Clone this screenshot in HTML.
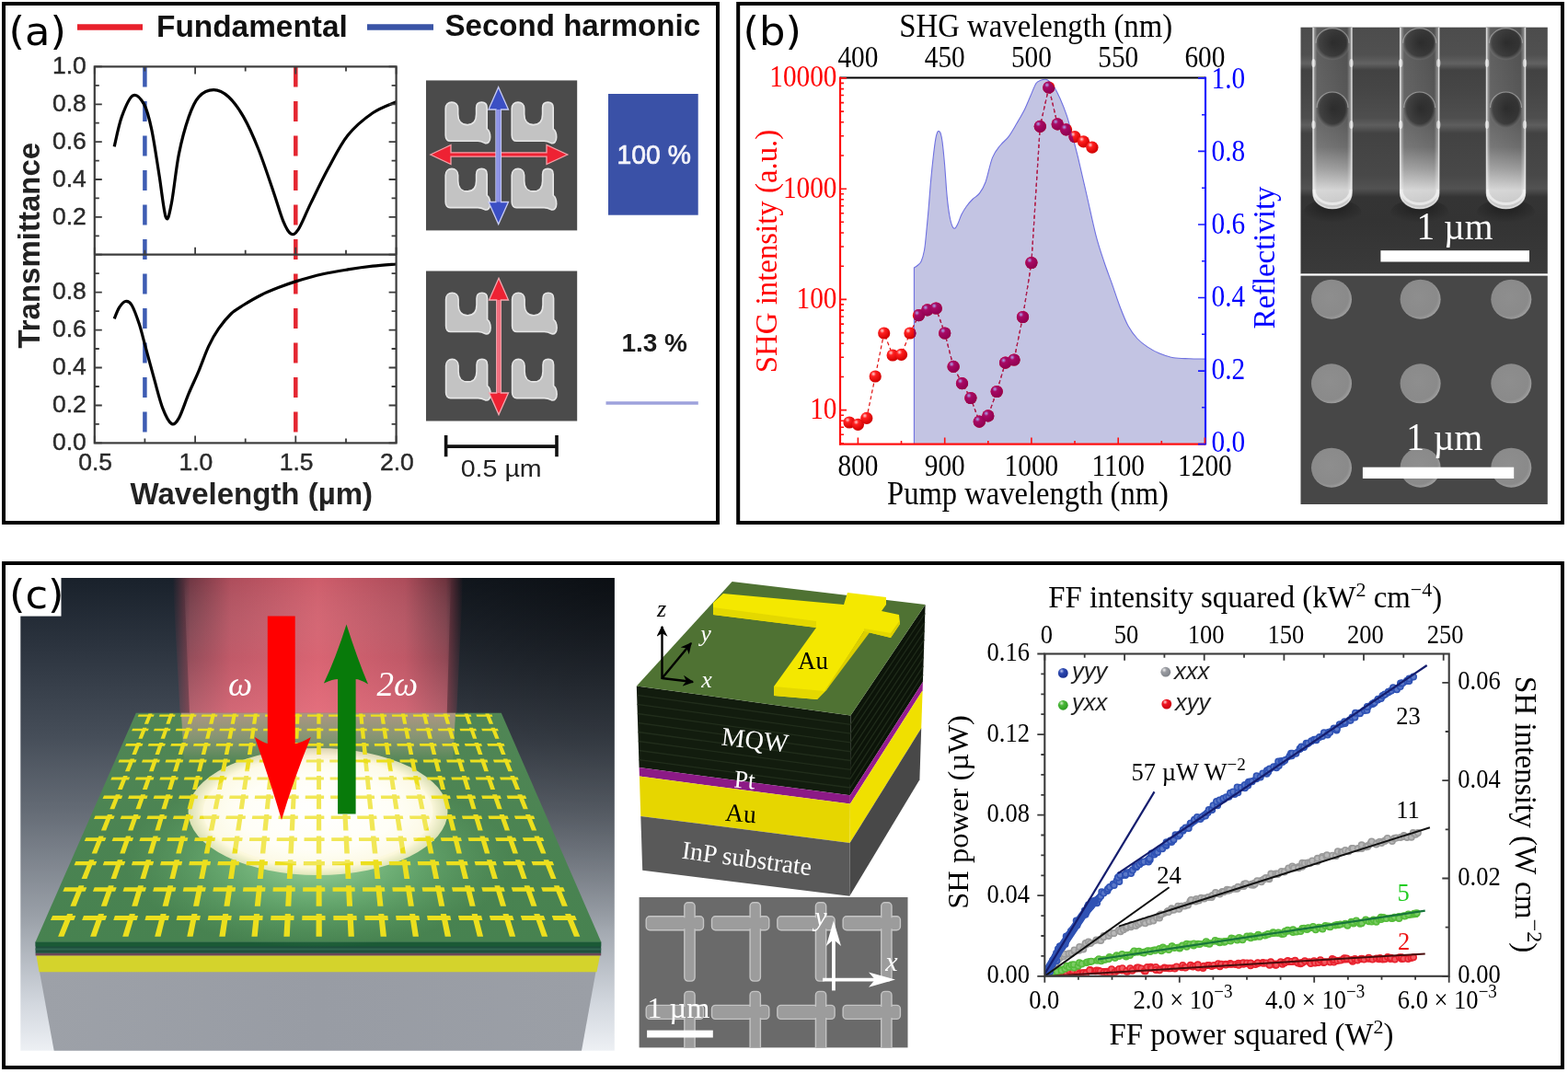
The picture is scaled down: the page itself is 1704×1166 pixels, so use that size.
<!DOCTYPE html>
<html><head><meta charset="utf-8"><title>Figure</title><style>html,body{margin:0;padding:0;background:#fff;width:1704px;height:1166px;overflow:hidden}svg{display:block}</style></head><body>
<svg width="1704" height="1166" viewBox="0 0 1704 1166">
<rect width="1704" height="1166" fill="#fff"/>
<rect x="4" y="4" width="776" height="564" fill="#fff" stroke="#000" stroke-width="4"/>
<text transform="translate(9.6,48.6) scale(1.03,1)" font-family="'DejaVu Sans', sans-serif" font-size="43.5" fill="#000">(a)</text>
<line x1="84" y1="29.6" x2="155" y2="29.6" stroke="#e8212c" stroke-width="6.5"/>
<text x="170" y="39.7" font-family="'Liberation Sans', Arial, sans-serif" font-weight="bold" font-size="33.4" fill="#111">Fundamental</text>
<line x1="399" y1="29.6" x2="471" y2="29.6" stroke="#3a54a6" stroke-width="6.5"/>
<text x="483.5" y="39.4" font-family="'Liberation Sans', Arial, sans-serif" font-weight="bold" font-size="33.1" fill="#111">Second harmonic</text>
<line x1="157.4" y1="72.4" x2="157.4" y2="481.4" stroke="#3d5cb3" stroke-width="4.5" stroke-dasharray="22,15.5"/>
<line x1="321.3" y1="72.4" x2="321.3" y2="481.4" stroke="#e42631" stroke-width="4.5" stroke-dasharray="22,15.5"/>
<path d="M124.20,159.30 C125.55,153.90 128.93,136.13 132.30,126.90 C135.67,117.67 140.35,106.15 144.40,103.90 C148.45,101.65 153.22,107.32 156.60,113.40 C159.98,119.48 162.00,127.80 164.70,140.40 C167.40,153.00 170.20,173.03 172.80,189.00 C175.40,204.97 178.05,230.80 180.30,236.20 C182.55,241.60 183.95,232.87 186.30,221.40 C188.65,209.93 191.25,183.15 194.40,167.40 C197.55,151.65 201.60,137.25 205.20,126.90 C208.80,116.55 211.50,110.17 216.00,105.30 C220.50,100.43 226.80,97.70 232.20,97.70 C237.60,97.70 243.00,100.43 248.40,105.30 C253.80,110.17 259.20,117.45 264.60,126.90 C270.00,136.35 275.40,148.50 280.80,162.00 C286.20,175.50 292.50,194.85 297.00,207.90 C301.50,220.95 304.65,232.65 307.80,240.30 C310.95,247.95 313.20,252.23 315.90,253.80 C318.60,255.37 320.40,255.10 324.00,249.70 C327.60,244.30 332.10,232.42 337.50,221.40 C342.90,210.38 349.65,195.98 356.40,183.60 C363.15,171.22 369.90,157.23 378.00,147.10 C386.10,136.97 396.23,128.87 405.00,122.80 C413.77,116.73 426.33,112.72 430.60,110.70" fill="none" stroke="#000" stroke-width="3.2" stroke-linejoin="round"/>
<path d="M124.20,346.40 C125.10,344.37 127.58,337.35 129.60,334.20 C131.62,331.05 134.05,327.95 136.30,327.50 C138.55,327.05 140.62,327.45 143.10,331.50 C145.58,335.55 148.73,344.37 151.20,351.80 C153.67,359.23 155.20,366.20 157.90,376.10 C160.60,386.00 164.25,399.95 167.40,411.20 C170.55,422.45 173.65,435.42 176.80,443.60 C179.95,451.78 183.37,458.50 186.30,460.30 C189.23,462.10 191.25,459.88 194.40,454.40 C197.55,448.92 201.60,435.95 205.20,427.40 C208.80,418.85 212.40,411.65 216.00,403.10 C219.60,394.55 223.20,383.75 226.80,376.10 C230.40,368.45 233.55,363.05 237.60,357.20 C241.65,351.35 246.60,345.28 251.10,341.00 C255.60,336.72 259.20,334.88 264.60,331.50 C270.00,328.12 277.20,323.85 283.50,320.70 C289.80,317.55 296.10,315.07 302.40,312.60 C308.70,310.13 313.20,308.37 321.30,305.90 C329.40,303.43 341.55,299.97 351.00,297.80 C360.45,295.63 369.00,294.33 378.00,292.90 C387.00,291.47 396.23,290.18 405.00,289.20 C413.77,288.22 426.33,287.37 430.60,287.00" fill="none" stroke="#000" stroke-width="3.2" stroke-linejoin="round"/>
<rect x="102.8" y="72.4" width="327.8" height="409.0" fill="none" stroke="#3c3c3c" stroke-width="2.2"/>
<line x1="102.8" y1="276.7" x2="430.6" y2="276.7" stroke="#3c3c3c" stroke-width="2.2"/>
<path d="M102.8,276.7h8M430.6,276.7h-8M102.8,481.4h8M430.6,481.4h-8M102.8,256.3h5M430.6,256.3h-5M102.8,460.9h5M430.6,460.9h-5M102.8,235.8h8M430.6,235.8h-8M102.8,440.5h8M430.6,440.5h-8M102.8,215.4h5M430.6,215.4h-5M102.8,420.0h5M430.6,420.0h-5M102.8,195.0h8M430.6,195.0h-8M102.8,399.5h8M430.6,399.5h-8M102.8,174.6h5M430.6,174.6h-5M102.8,379.0h5M430.6,379.0h-5M102.8,154.1h8M430.6,154.1h-8M102.8,358.6h8M430.6,358.6h-8M102.8,133.7h5M430.6,133.7h-5M102.8,338.1h5M430.6,338.1h-5M102.8,113.3h8M430.6,113.3h-8M102.8,317.6h8M430.6,317.6h-8M102.8,92.8h5M430.6,92.8h-5M102.8,297.2h5M430.6,297.2h-5M102.8,72.4h8M430.6,72.4h-8M102.8,276.7h8M430.6,276.7h-8M102.8,72.4v8M102.8,276.7v-8M102.8,481.4v-8M157.4,72.4v5M157.4,276.7v-5M157.4,481.4v-5M212.1,72.4v8M212.1,276.7v-8M212.1,481.4v-8M266.7,72.4v5M266.7,276.7v-5M266.7,481.4v-5M321.3,72.4v8M321.3,276.7v-8M321.3,481.4v-8M376.0,72.4v5M376.0,276.7v-5M376.0,481.4v-5M430.6,72.4v8M430.6,276.7v-8M430.6,481.4v-8" stroke="#3c3c3c" stroke-width="1.8" fill="none"/>
<text x="93.8" y="80.1" text-anchor="end" font-family="'Liberation Sans', Arial, sans-serif" font-size="26.5" fill="#2a2a2a" stroke="#2a2a2a" stroke-width="0.45">1.0</text>
<text x="93.8" y="121.0" text-anchor="end" font-family="'Liberation Sans', Arial, sans-serif" font-size="26.5" fill="#2a2a2a" stroke="#2a2a2a" stroke-width="0.45">0.8</text>
<text x="93.8" y="161.8" text-anchor="end" font-family="'Liberation Sans', Arial, sans-serif" font-size="26.5" fill="#2a2a2a" stroke="#2a2a2a" stroke-width="0.45">0.6</text>
<text x="93.8" y="202.7" text-anchor="end" font-family="'Liberation Sans', Arial, sans-serif" font-size="26.5" fill="#2a2a2a" stroke="#2a2a2a" stroke-width="0.45">0.4</text>
<text x="93.8" y="243.5" text-anchor="end" font-family="'Liberation Sans', Arial, sans-serif" font-size="26.5" fill="#2a2a2a" stroke="#2a2a2a" stroke-width="0.45">0.2</text>
<text x="93.8" y="325.3" text-anchor="end" font-family="'Liberation Sans', Arial, sans-serif" font-size="26.5" fill="#2a2a2a" stroke="#2a2a2a" stroke-width="0.45">0.8</text>
<text x="93.8" y="366.3" text-anchor="end" font-family="'Liberation Sans', Arial, sans-serif" font-size="26.5" fill="#2a2a2a" stroke="#2a2a2a" stroke-width="0.45">0.6</text>
<text x="93.8" y="407.2" text-anchor="end" font-family="'Liberation Sans', Arial, sans-serif" font-size="26.5" fill="#2a2a2a" stroke="#2a2a2a" stroke-width="0.45">0.4</text>
<text x="93.8" y="448.2" text-anchor="end" font-family="'Liberation Sans', Arial, sans-serif" font-size="26.5" fill="#2a2a2a" stroke="#2a2a2a" stroke-width="0.45">0.2</text>
<text x="93.8" y="489.1" text-anchor="end" font-family="'Liberation Sans', Arial, sans-serif" font-size="26.5" fill="#2a2a2a" stroke="#2a2a2a" stroke-width="0.45">0.0</text>
<text x="103.6" y="511" text-anchor="middle" font-family="'Liberation Sans', Arial, sans-serif" font-size="26.5" fill="#2a2a2a" stroke="#2a2a2a" stroke-width="0.45">0.5</text>
<text x="212.9" y="511" text-anchor="middle" font-family="'Liberation Sans', Arial, sans-serif" font-size="26.5" fill="#2a2a2a" stroke="#2a2a2a" stroke-width="0.45">1.0</text>
<text x="322.1" y="511" text-anchor="middle" font-family="'Liberation Sans', Arial, sans-serif" font-size="26.5" fill="#2a2a2a" stroke="#2a2a2a" stroke-width="0.45">1.5</text>
<text x="431.4" y="511" text-anchor="middle" font-family="'Liberation Sans', Arial, sans-serif" font-size="26.5" fill="#2a2a2a" stroke="#2a2a2a" stroke-width="0.45">2.0</text>
<text x="273.3" y="547.5" text-anchor="middle" font-family="'Liberation Sans', Arial, sans-serif" font-weight="bold" font-size="33" fill="#222">Wavelength (µm)</text>
<text transform="translate(42.5,266.7) rotate(-90)" x="0" y="0" text-anchor="middle" font-family="'Liberation Sans', Arial, sans-serif" font-weight="bold" font-size="33" fill="#222">Transmittance</text>
<rect x="463" y="87.4" width="164.2" height="163" fill="#4b4b4b"/>
<path transform="translate(484.2,111.1)" d="M0,7 C0,2.5 3,0 6.75,0 C10.5,0 13.5,2.5 13.5,7 L13.5,13 C13.5,20 17,24.5 23.5,24.5 C30,24.5 33.4,20 33.4,13 L33.4,6 C33.4,2 36,0 39.2,0 C42.5,0 45,2 45,6 L45,29 C48,31 48.5,34 48.5,38 C48.5,43 46,45 43,44.5 C40,43 38,42.2 35,42.2 L5,42.2 C2,42.2 0,40 0,36 Z" fill="#c3c3c3" stroke="#e6e6e6" stroke-width="1.6"/>
<path transform="translate(484.2,183.4)" d="M0,7 C0,2.5 3,0 6.75,0 C10.5,0 13.5,2.5 13.5,7 L13.5,13 C13.5,20 17,24.5 23.5,24.5 C30,24.5 33.4,20 33.4,13 L33.4,6 C33.4,2 36,0 39.2,0 C42.5,0 45,2 45,6 L45,29 C48,31 48.5,34 48.5,38 C48.5,43 46,45 43,44.5 C40,43 38,42.2 35,42.2 L5,42.2 C2,42.2 0,40 0,36 Z" fill="#c3c3c3" stroke="#e6e6e6" stroke-width="1.6"/>
<path transform="translate(556.2,111.1)" d="M0,7 C0,2.5 3,0 6.75,0 C10.5,0 13.5,2.5 13.5,7 L13.5,13 C13.5,20 17,24.5 23.5,24.5 C30,24.5 33.4,20 33.4,13 L33.4,6 C33.4,2 36,0 39.2,0 C42.5,0 45,2 45,6 L45,29 C48,31 48.5,34 48.5,38 C48.5,43 46,45 43,44.5 C40,43 38,42.2 35,42.2 L5,42.2 C2,42.2 0,40 0,36 Z" fill="#c3c3c3" stroke="#e6e6e6" stroke-width="1.6"/>
<path transform="translate(556.2,183.4)" d="M0,7 C0,2.5 3,0 6.75,0 C10.5,0 13.5,2.5 13.5,7 L13.5,13 C13.5,20 17,24.5 23.5,24.5 C30,24.5 33.4,20 33.4,13 L33.4,6 C33.4,2 36,0 39.2,0 C42.5,0 45,2 45,6 L45,29 C48,31 48.5,34 48.5,38 C48.5,43 46,45 43,44.5 C40,43 38,42.2 35,42.2 L5,42.2 C2,42.2 0,40 0,36 Z" fill="#c3c3c3" stroke="#e6e6e6" stroke-width="1.6"/>
<rect x="463" y="294.5" width="164.2" height="163" fill="#4b4b4b"/>
<path transform="translate(484.6,318.3)" d="M0,7 C0,2.5 3,0 6.75,0 C10.5,0 13.5,2.5 13.5,7 L13.5,13 C13.5,20 17,24.5 23.5,24.5 C30,24.5 33.4,20 33.4,13 L33.4,6 C33.4,2 36,0 39.2,0 C42.5,0 45,2 45,6 L45,29 C48,31 48.5,34 48.5,38 C48.5,43 46,45 43,44.5 C40,43 38,42.2 35,42.2 L5,42.2 C2,42.2 0,40 0,36 Z" fill="#c3c3c3" stroke="#e6e6e6" stroke-width="1.6"/>
<path transform="translate(484.6,390.4)" d="M0,7 C0,2.5 3,0 6.75,0 C10.5,0 13.5,2.5 13.5,7 L13.5,13 C13.5,20 17,24.5 23.5,24.5 C30,24.5 33.4,20 33.4,13 L33.4,6 C33.4,2 36,0 39.2,0 C42.5,0 45,2 45,6 L45,29 C48,31 48.5,34 48.5,38 C48.5,43 46,45 43,44.5 C40,43 38,42.2 35,42.2 L5,42.2 C2,42.2 0,40 0,36 Z" fill="#c3c3c3" stroke="#e6e6e6" stroke-width="1.6"/>
<path transform="translate(556.6,318.3)" d="M0,7 C0,2.5 3,0 6.75,0 C10.5,0 13.5,2.5 13.5,7 L13.5,13 C13.5,20 17,24.5 23.5,24.5 C30,24.5 33.4,20 33.4,13 L33.4,6 C33.4,2 36,0 39.2,0 C42.5,0 45,2 45,6 L45,29 C48,31 48.5,34 48.5,38 C48.5,43 46,45 43,44.5 C40,43 38,42.2 35,42.2 L5,42.2 C2,42.2 0,40 0,36 Z" fill="#c3c3c3" stroke="#e6e6e6" stroke-width="1.6"/>
<path transform="translate(556.6,390.4)" d="M0,7 C0,2.5 3,0 6.75,0 C10.5,0 13.5,2.5 13.5,7 L13.5,13 C13.5,20 17,24.5 23.5,24.5 C30,24.5 33.4,20 33.4,13 L33.4,6 C33.4,2 36,0 39.2,0 C42.5,0 45,2 45,6 L45,29 C48,31 48.5,34 48.5,38 C48.5,43 46,45 43,44.5 C40,43 38,42.2 35,42.2 L5,42.2 C2,42.2 0,40 0,36 Z" fill="#c3c3c3" stroke="#e6e6e6" stroke-width="1.6"/>
<path d="M467.8,168 L490,157.5 L490,165.8 L594,165.8 L594,157.5 L616.7,168 L594,178.5 L594,170.2 L490,170.2 L490,178.5 Z" fill="#ee2233" stroke="#f4a0a8" stroke-width="1.3"/>
<path d="M541.7,94.7 L552.5,119 L544.4,119 L544.4,219.5 L552.5,219.5 L541.7,243.6 L530.9,219.5 L539,219.5 L539,119 L530.9,119 Z" fill="#3b4fc4" stroke="#c8ccf4" stroke-width="1.3"/>
<rect x="539.6" y="119" width="4.2" height="100.5" fill="#8f94e6"/>
<path d="M542,302.3 L552.5,326 L544.3,326 L544.3,427 L552.5,427 L542,450.6 L531.5,427 L539.7,427 L539.7,326 L531.5,326 Z" fill="#ee2233" stroke="#f4a8b0" stroke-width="1.3"/>
<rect x="540.1" y="326" width="3.8" height="101" fill="#f07080"/>
<rect x="661" y="102" width="97.7" height="131.7" fill="#3a51a7"/>
<text transform="translate(710.7,178.3) scale(1,1.06)" text-anchor="middle" font-family="'Liberation Sans', Arial, sans-serif" font-size="28.3" fill="#f4f4fa" stroke="#f4f4fa" stroke-width="0.7">100 %</text>
<text x="711.2" y="382" text-anchor="middle" font-family="'Liberation Sans', Arial, sans-serif" font-weight="bold" font-size="28" fill="#1a1a1a">1.3 %</text>
<line x1="658.5" y1="438" x2="758.8" y2="438" stroke="#9ea2dc" stroke-width="3.5"/>
<path d="M484.6,485.1 H605 M484.6,473 V496.3 M605,473 V496.3" stroke="#111" stroke-width="3.6" fill="none"/>
<text transform="translate(544.7,517.5) scale(1,0.92)" text-anchor="middle" font-family="'Liberation Sans', Arial, sans-serif" font-size="28.6" fill="#222">0.5 µm</text>
<rect x="802.2" y="4" width="895.8" height="564" fill="#fff" stroke="#000" stroke-width="4"/>
<text transform="translate(807.5,48.6) scale(1.03,1)" font-family="'DejaVu Sans', sans-serif" font-size="43.5" fill="#000">(b)</text>
<clipPath id="fillclip"><path d="M993.40,291.00 C994.00,290.58 995.72,289.68 997.00,288.50 C998.28,287.32 999.85,286.65 1001.10,283.90 C1002.35,281.15 1003.62,276.68 1004.50,272.00 C1005.38,267.32 1005.65,263.13 1006.40,255.80 C1007.15,248.47 1008.13,237.97 1009.00,228.00 C1009.87,218.03 1010.68,206.00 1011.60,196.00 C1012.52,186.00 1013.62,175.62 1014.50,168.00 C1015.38,160.38 1016.18,154.38 1016.90,150.30 C1017.62,146.22 1018.22,144.78 1018.80,143.50 C1019.38,142.22 1019.83,142.35 1020.40,142.60 C1020.97,142.85 1021.60,143.13 1022.20,145.00 C1022.80,146.87 1023.28,148.30 1024.00,153.80 C1024.72,159.30 1025.63,168.03 1026.50,178.00 C1027.37,187.97 1028.28,204.10 1029.20,213.60 C1030.12,223.10 1031.03,229.60 1032.00,235.00 C1032.97,240.40 1034.00,243.83 1035.00,246.00 C1036.00,248.17 1037.00,248.50 1038.00,248.00 C1039.00,247.50 1039.83,245.50 1041.00,243.00 C1042.17,240.50 1043.45,236.13 1045.00,233.00 C1046.55,229.87 1048.30,226.95 1050.30,224.20 C1052.30,221.45 1054.65,218.85 1057.00,216.50 C1059.35,214.15 1062.07,213.18 1064.40,210.10 C1066.73,207.02 1068.65,204.45 1071.00,198.00 C1073.35,191.55 1075.83,178.07 1078.50,171.40 C1081.17,164.73 1084.08,161.80 1087.00,158.00 C1089.92,154.20 1093.00,152.60 1096.00,148.60 C1099.00,144.60 1102.07,138.98 1105.00,134.00 C1107.93,129.02 1111.10,123.70 1113.60,118.70 C1116.10,113.70 1117.93,108.70 1120.00,104.00 C1122.07,99.30 1124.17,93.28 1126.00,90.50 C1127.83,87.72 1129.25,88.00 1131.00,87.30 C1132.75,86.60 1134.83,86.02 1136.50,86.30 C1138.17,86.58 1139.53,87.72 1141.00,89.00 C1142.47,90.28 1143.47,91.00 1145.30,94.00 C1147.13,97.00 1149.67,101.72 1152.00,107.00 C1154.33,112.28 1157.13,119.20 1159.30,125.70 C1161.47,132.20 1162.95,138.38 1165.00,146.00 C1167.05,153.62 1168.93,160.40 1171.60,171.40 C1174.27,182.40 1177.77,197.93 1181.00,212.00 C1184.23,226.07 1187.83,243.63 1191.00,255.80 C1194.17,267.97 1197.08,276.20 1200.00,285.00 C1202.92,293.80 1205.67,300.60 1208.50,308.60 C1211.33,316.60 1214.07,325.38 1217.00,333.00 C1219.93,340.62 1222.93,348.47 1226.10,354.30 C1229.27,360.13 1232.48,364.20 1236.00,368.00 C1239.52,371.80 1243.20,374.43 1247.20,377.10 C1251.20,379.77 1255.30,382.07 1260.00,384.00 C1264.70,385.93 1270.07,387.73 1275.40,388.70 C1280.73,389.67 1286.40,389.57 1292.00,389.80 C1297.60,390.03 1306.17,390.05 1309.00,390.10 L1309,482.6 L993.4,482.6 Z"/></clipPath>
<path d="M993.40,291.00 C994.00,290.58 995.72,289.68 997.00,288.50 C998.28,287.32 999.85,286.65 1001.10,283.90 C1002.35,281.15 1003.62,276.68 1004.50,272.00 C1005.38,267.32 1005.65,263.13 1006.40,255.80 C1007.15,248.47 1008.13,237.97 1009.00,228.00 C1009.87,218.03 1010.68,206.00 1011.60,196.00 C1012.52,186.00 1013.62,175.62 1014.50,168.00 C1015.38,160.38 1016.18,154.38 1016.90,150.30 C1017.62,146.22 1018.22,144.78 1018.80,143.50 C1019.38,142.22 1019.83,142.35 1020.40,142.60 C1020.97,142.85 1021.60,143.13 1022.20,145.00 C1022.80,146.87 1023.28,148.30 1024.00,153.80 C1024.72,159.30 1025.63,168.03 1026.50,178.00 C1027.37,187.97 1028.28,204.10 1029.20,213.60 C1030.12,223.10 1031.03,229.60 1032.00,235.00 C1032.97,240.40 1034.00,243.83 1035.00,246.00 C1036.00,248.17 1037.00,248.50 1038.00,248.00 C1039.00,247.50 1039.83,245.50 1041.00,243.00 C1042.17,240.50 1043.45,236.13 1045.00,233.00 C1046.55,229.87 1048.30,226.95 1050.30,224.20 C1052.30,221.45 1054.65,218.85 1057.00,216.50 C1059.35,214.15 1062.07,213.18 1064.40,210.10 C1066.73,207.02 1068.65,204.45 1071.00,198.00 C1073.35,191.55 1075.83,178.07 1078.50,171.40 C1081.17,164.73 1084.08,161.80 1087.00,158.00 C1089.92,154.20 1093.00,152.60 1096.00,148.60 C1099.00,144.60 1102.07,138.98 1105.00,134.00 C1107.93,129.02 1111.10,123.70 1113.60,118.70 C1116.10,113.70 1117.93,108.70 1120.00,104.00 C1122.07,99.30 1124.17,93.28 1126.00,90.50 C1127.83,87.72 1129.25,88.00 1131.00,87.30 C1132.75,86.60 1134.83,86.02 1136.50,86.30 C1138.17,86.58 1139.53,87.72 1141.00,89.00 C1142.47,90.28 1143.47,91.00 1145.30,94.00 C1147.13,97.00 1149.67,101.72 1152.00,107.00 C1154.33,112.28 1157.13,119.20 1159.30,125.70 C1161.47,132.20 1162.95,138.38 1165.00,146.00 C1167.05,153.62 1168.93,160.40 1171.60,171.40 C1174.27,182.40 1177.77,197.93 1181.00,212.00 C1184.23,226.07 1187.83,243.63 1191.00,255.80 C1194.17,267.97 1197.08,276.20 1200.00,285.00 C1202.92,293.80 1205.67,300.60 1208.50,308.60 C1211.33,316.60 1214.07,325.38 1217.00,333.00 C1219.93,340.62 1222.93,348.47 1226.10,354.30 C1229.27,360.13 1232.48,364.20 1236.00,368.00 C1239.52,371.80 1243.20,374.43 1247.20,377.10 C1251.20,379.77 1255.30,382.07 1260.00,384.00 C1264.70,385.93 1270.07,387.73 1275.40,388.70 C1280.73,389.67 1286.40,389.57 1292.00,389.80 C1297.60,390.03 1306.17,390.05 1309.00,390.10 L1309,482.6 L993.4,482.6 Z" fill="#c3c4e3"/>
<path d="M993.4,482.6 L993.4,291 C994.00,290.58 995.72,289.68 997.00,288.50 C998.28,287.32 999.85,286.65 1001.10,283.90 C1002.35,281.15 1003.62,276.68 1004.50,272.00 C1005.38,267.32 1005.65,263.13 1006.40,255.80 C1007.15,248.47 1008.13,237.97 1009.00,228.00 C1009.87,218.03 1010.68,206.00 1011.60,196.00 C1012.52,186.00 1013.62,175.62 1014.50,168.00 C1015.38,160.38 1016.18,154.38 1016.90,150.30 C1017.62,146.22 1018.22,144.78 1018.80,143.50 C1019.38,142.22 1019.83,142.35 1020.40,142.60 C1020.97,142.85 1021.60,143.13 1022.20,145.00 C1022.80,146.87 1023.28,148.30 1024.00,153.80 C1024.72,159.30 1025.63,168.03 1026.50,178.00 C1027.37,187.97 1028.28,204.10 1029.20,213.60 C1030.12,223.10 1031.03,229.60 1032.00,235.00 C1032.97,240.40 1034.00,243.83 1035.00,246.00 C1036.00,248.17 1037.00,248.50 1038.00,248.00 C1039.00,247.50 1039.83,245.50 1041.00,243.00 C1042.17,240.50 1043.45,236.13 1045.00,233.00 C1046.55,229.87 1048.30,226.95 1050.30,224.20 C1052.30,221.45 1054.65,218.85 1057.00,216.50 C1059.35,214.15 1062.07,213.18 1064.40,210.10 C1066.73,207.02 1068.65,204.45 1071.00,198.00 C1073.35,191.55 1075.83,178.07 1078.50,171.40 C1081.17,164.73 1084.08,161.80 1087.00,158.00 C1089.92,154.20 1093.00,152.60 1096.00,148.60 C1099.00,144.60 1102.07,138.98 1105.00,134.00 C1107.93,129.02 1111.10,123.70 1113.60,118.70 C1116.10,113.70 1117.93,108.70 1120.00,104.00 C1122.07,99.30 1124.17,93.28 1126.00,90.50 C1127.83,87.72 1129.25,88.00 1131.00,87.30 C1132.75,86.60 1134.83,86.02 1136.50,86.30 C1138.17,86.58 1139.53,87.72 1141.00,89.00 C1142.47,90.28 1143.47,91.00 1145.30,94.00 C1147.13,97.00 1149.67,101.72 1152.00,107.00 C1154.33,112.28 1157.13,119.20 1159.30,125.70 C1161.47,132.20 1162.95,138.38 1165.00,146.00 C1167.05,153.62 1168.93,160.40 1171.60,171.40 C1174.27,182.40 1177.77,197.93 1181.00,212.00 C1184.23,226.07 1187.83,243.63 1191.00,255.80 C1194.17,267.97 1197.08,276.20 1200.00,285.00 C1202.92,293.80 1205.67,300.60 1208.50,308.60 C1211.33,316.60 1214.07,325.38 1217.00,333.00 C1219.93,340.62 1222.93,348.47 1226.10,354.30 C1229.27,360.13 1232.48,364.20 1236.00,368.00 C1239.52,371.80 1243.20,374.43 1247.20,377.10 C1251.20,379.77 1255.30,382.07 1260.00,384.00 C1264.70,385.93 1270.07,387.73 1275.40,388.70 C1280.73,389.67 1286.40,389.57 1292.00,389.80 C1297.60,390.03 1306.17,390.05 1309.00,390.10" fill="none" stroke="#6e70e0" stroke-width="1.1"/>
<path d="M923.0,459.0 L932.4,461.4 L941.8,454.4 L951.2,409.0 L960.7,362.0 L970.1,386.0 L979.5,385.4 L988.9,362.0 L998.4,342.7 L1007.8,336.8 L1017.2,335.0 L1026.7,362.0 L1036.1,398.4 L1045.5,416.7 L1054.9,432.5 L1064.3,458.2 L1073.8,451.9 L1083.2,425.5 L1092.6,394.2 L1102.0,391.0 L1111.5,344.5 L1120.9,285.5 L1130.3,137.3 L1139.8,95.0 L1149.2,134.9 L1158.6,140.8 L1168.0,148.6 L1177.5,153.9 L1186.9,160.2" fill="none" stroke="#e01010" stroke-width="1.2" stroke-dasharray="4,3"/>
<path d="M923.0,459.0 L932.4,461.4 L941.8,454.4 L951.2,409.0 L960.7,362.0 L970.1,386.0 L979.5,385.4 L988.9,362.0 L998.4,342.7 L1007.8,336.8 L1017.2,335.0 L1026.7,362.0 L1036.1,398.4 L1045.5,416.7 L1054.9,432.5 L1064.3,458.2 L1073.8,451.9 L1083.2,425.5 L1092.6,394.2 L1102.0,391.0 L1111.5,344.5 L1120.9,285.5 L1130.3,137.3 L1139.8,95.0 L1149.2,134.9 L1158.6,140.8 L1168.0,148.6 L1177.5,153.9 L1186.9,160.2" fill="none" stroke="#a0205a" stroke-width="1.2" stroke-dasharray="4,3" clip-path="url(#fillclip)"/>
<defs><radialGradient id="gred" cx="0.35" cy="0.3" r="0.7"><stop offset="0" stop-color="#ffd0d0"/><stop offset="0.3" stop-color="#ff2020"/><stop offset="1" stop-color="#d00000"/></radialGradient><radialGradient id="gpur" cx="0.35" cy="0.3" r="0.7"><stop offset="0" stop-color="#a8a8f0"/><stop offset="0.3" stop-color="#a80a64"/><stop offset="1" stop-color="#900050"/></radialGradient></defs>
<circle cx="923.0" cy="459.0" r="6.6" fill="url(#gred)"/>
<circle cx="932.4" cy="461.4" r="6.6" fill="url(#gred)"/>
<circle cx="941.8" cy="454.4" r="6.6" fill="url(#gred)"/>
<circle cx="951.2" cy="409.0" r="6.6" fill="url(#gred)"/>
<circle cx="960.7" cy="362.0" r="6.6" fill="url(#gred)"/>
<circle cx="970.1" cy="386.0" r="6.6" fill="url(#gred)"/>
<circle cx="979.5" cy="385.4" r="6.6" fill="url(#gred)"/>
<circle cx="988.9" cy="362.0" r="6.6" fill="url(#gred)"/>
<circle cx="998.4" cy="342.7" r="6.6" fill="url(#gred)"/>
<circle cx="1007.8" cy="336.8" r="6.6" fill="url(#gred)"/>
<circle cx="1017.2" cy="335.0" r="6.6" fill="url(#gred)"/>
<circle cx="1026.7" cy="362.0" r="6.6" fill="url(#gred)"/>
<circle cx="1036.1" cy="398.4" r="6.6" fill="url(#gred)"/>
<circle cx="1045.5" cy="416.7" r="6.6" fill="url(#gred)"/>
<circle cx="1054.9" cy="432.5" r="6.6" fill="url(#gred)"/>
<circle cx="1064.3" cy="458.2" r="6.6" fill="url(#gred)"/>
<circle cx="1073.8" cy="451.9" r="6.6" fill="url(#gred)"/>
<circle cx="1083.2" cy="425.5" r="6.6" fill="url(#gred)"/>
<circle cx="1092.6" cy="394.2" r="6.6" fill="url(#gred)"/>
<circle cx="1102.0" cy="391.0" r="6.6" fill="url(#gred)"/>
<circle cx="1111.5" cy="344.5" r="6.6" fill="url(#gred)"/>
<circle cx="1120.9" cy="285.5" r="6.6" fill="url(#gred)"/>
<circle cx="1130.3" cy="137.3" r="6.6" fill="url(#gred)"/>
<circle cx="1139.8" cy="95.0" r="6.6" fill="url(#gred)"/>
<circle cx="1149.2" cy="134.9" r="6.6" fill="url(#gred)"/>
<circle cx="1158.6" cy="140.8" r="6.6" fill="url(#gred)"/>
<circle cx="1168.0" cy="148.6" r="6.6" fill="url(#gred)"/>
<circle cx="1177.5" cy="153.9" r="6.6" fill="url(#gred)"/>
<circle cx="1186.9" cy="160.2" r="6.6" fill="url(#gred)"/>
<g clip-path="url(#fillclip)"><circle cx="923.0" cy="459.0" r="6.6" fill="url(#gpur)"/><circle cx="932.4" cy="461.4" r="6.6" fill="url(#gpur)"/><circle cx="941.8" cy="454.4" r="6.6" fill="url(#gpur)"/><circle cx="951.2" cy="409.0" r="6.6" fill="url(#gpur)"/><circle cx="960.7" cy="362.0" r="6.6" fill="url(#gpur)"/><circle cx="970.1" cy="386.0" r="6.6" fill="url(#gpur)"/><circle cx="979.5" cy="385.4" r="6.6" fill="url(#gpur)"/><circle cx="988.9" cy="362.0" r="6.6" fill="url(#gpur)"/><circle cx="998.4" cy="342.7" r="6.6" fill="url(#gpur)"/><circle cx="1007.8" cy="336.8" r="6.6" fill="url(#gpur)"/><circle cx="1017.2" cy="335.0" r="6.6" fill="url(#gpur)"/><circle cx="1026.7" cy="362.0" r="6.6" fill="url(#gpur)"/><circle cx="1036.1" cy="398.4" r="6.6" fill="url(#gpur)"/><circle cx="1045.5" cy="416.7" r="6.6" fill="url(#gpur)"/><circle cx="1054.9" cy="432.5" r="6.6" fill="url(#gpur)"/><circle cx="1064.3" cy="458.2" r="6.6" fill="url(#gpur)"/><circle cx="1073.8" cy="451.9" r="6.6" fill="url(#gpur)"/><circle cx="1083.2" cy="425.5" r="6.6" fill="url(#gpur)"/><circle cx="1092.6" cy="394.2" r="6.6" fill="url(#gpur)"/><circle cx="1102.0" cy="391.0" r="6.6" fill="url(#gpur)"/><circle cx="1111.5" cy="344.5" r="6.6" fill="url(#gpur)"/><circle cx="1120.9" cy="285.5" r="6.6" fill="url(#gpur)"/><circle cx="1130.3" cy="137.3" r="6.6" fill="url(#gpur)"/><circle cx="1139.8" cy="95.0" r="6.6" fill="url(#gpur)"/><circle cx="1149.2" cy="134.9" r="6.6" fill="url(#gpur)"/><circle cx="1158.6" cy="140.8" r="6.6" fill="url(#gpur)"/><circle cx="1168.0" cy="148.6" r="6.6" fill="url(#gpur)"/><circle cx="1177.5" cy="153.9" r="6.6" fill="url(#gpur)"/><circle cx="1186.9" cy="160.2" r="6.6" fill="url(#gpur)"/></g>
<line x1="913.0" y1="84.6" x2="1310.0" y2="84.6" stroke="#000" stroke-width="2"/>
<line x1="1310.0" y1="83.6" x2="1310.0" y2="483.6" stroke="#1a1aff" stroke-width="2.2"/>
<line x1="913.0" y1="83.6" x2="913.0" y2="483.6" stroke="#ff1010" stroke-width="2.2"/>
<line x1="912.0" y1="482.6" x2="1310.0" y2="482.6" stroke="#ff1010" stroke-width="2.4"/>
<path d="M913.0,481.8h4M913.0,472.3h4M913.0,464.3h4M913.0,457.3h4M913.0,451.2h4M913.0,445.6h7M913.0,409.5h4M913.0,388.3h4M913.0,373.3h4M913.0,361.6h4M913.0,352.1h4M913.0,344.0h4M913.0,337.1h4M913.0,330.9h4M913.0,325.4h7M913.0,289.2h4M913.0,268.0h4M913.0,253.0h4M913.0,241.3h4M913.0,231.8h4M913.0,223.8h4M913.0,216.8h4M913.0,210.7h4M913.0,205.2h7M913.0,169.0h4M913.0,147.8h4M913.0,132.8h4M913.0,121.1h4M913.0,111.6h4M913.0,103.5h4M913.0,96.6h4M913.0,90.4h4M913.0,84.9h7" stroke="#ff1010" stroke-width="1.6"/>
<path d="M932.4,482.6v-7M979.5,482.6v-3.5M1026.7,482.6v-7M1073.8,482.6v-3.5M1120.9,482.6v-7M1168.0,482.6v-3.5M1215.2,482.6v-7M1262.3,482.6v-3.5M1309.4,482.6v-7" stroke="#ff1010" stroke-width="1.6"/>
<path d="M1310.0,482.6h-8M1310.0,442.8h-4M1310.0,403.1h-8M1310.0,363.3h-4M1310.0,323.5h-8M1310.0,283.8h-4M1310.0,244.0h-8M1310.0,204.2h-4M1310.0,164.4h-8M1310.0,124.7h-4M1310.0,84.9h-8" stroke="#1a1aff" stroke-width="1.6"/>
<text transform="translate(909.5,94.4) scale(1,1.15)" text-anchor="end" font-family="'Liberation Serif', 'Times New Roman', serif" font-size="29.3" fill="#ff0000" >10000</text>
<text transform="translate(909.5,214.7) scale(1,1.15)" text-anchor="end" font-family="'Liberation Serif', 'Times New Roman', serif" font-size="29.3" fill="#ff0000" >1000</text>
<text transform="translate(909.5,334.9) scale(1,1.15)" text-anchor="end" font-family="'Liberation Serif', 'Times New Roman', serif" font-size="29.3" fill="#ff0000" >100</text>
<text transform="translate(909.5,455.1) scale(1,1.15)" text-anchor="end" font-family="'Liberation Serif', 'Times New Roman', serif" font-size="29.3" fill="#ff0000" >10</text>
<text transform="translate(932.4,517.0) scale(1,1.15)" text-anchor="middle" font-family="'Liberation Serif', 'Times New Roman', serif" font-size="29.3" fill="#000" >800</text>
<text transform="translate(1026.7,517.0) scale(1,1.15)" text-anchor="middle" font-family="'Liberation Serif', 'Times New Roman', serif" font-size="29.3" fill="#000" >900</text>
<text transform="translate(1120.9,517.0) scale(1,1.15)" text-anchor="middle" font-family="'Liberation Serif', 'Times New Roman', serif" font-size="29.3" fill="#000" >1000</text>
<text transform="translate(1215.2,517.0) scale(1,1.15)" text-anchor="middle" font-family="'Liberation Serif', 'Times New Roman', serif" font-size="29.3" fill="#000" >1100</text>
<text transform="translate(1309.4,517.0) scale(1,1.15)" text-anchor="middle" font-family="'Liberation Serif', 'Times New Roman', serif" font-size="29.3" fill="#000" >1200</text>
<text transform="translate(932.4,72.6) scale(1,1.15)" text-anchor="middle" font-family="'Liberation Serif', 'Times New Roman', serif" font-size="29.3" fill="#000" >400</text>
<text transform="translate(1026.7,72.6) scale(1,1.15)" text-anchor="middle" font-family="'Liberation Serif', 'Times New Roman', serif" font-size="29.3" fill="#000" >450</text>
<text transform="translate(1120.9,72.6) scale(1,1.15)" text-anchor="middle" font-family="'Liberation Serif', 'Times New Roman', serif" font-size="29.3" fill="#000" >500</text>
<text transform="translate(1215.2,72.6) scale(1,1.15)" text-anchor="middle" font-family="'Liberation Serif', 'Times New Roman', serif" font-size="29.3" fill="#000" >550</text>
<text transform="translate(1309.4,72.6) scale(1,1.15)" text-anchor="middle" font-family="'Liberation Serif', 'Times New Roman', serif" font-size="29.3" fill="#000" >600</text>
<text transform="translate(1316.5,491.4) scale(1,1.15)" text-anchor="start" font-family="'Liberation Serif', 'Times New Roman', serif" font-size="29.3" fill="#0000ff" >0.0</text>
<text transform="translate(1316.5,412.3) scale(1,1.15)" text-anchor="start" font-family="'Liberation Serif', 'Times New Roman', serif" font-size="29.3" fill="#0000ff" >0.2</text>
<text transform="translate(1316.5,333.2) scale(1,1.15)" text-anchor="start" font-family="'Liberation Serif', 'Times New Roman', serif" font-size="29.3" fill="#0000ff" >0.4</text>
<text transform="translate(1316.5,254.2) scale(1,1.15)" text-anchor="start" font-family="'Liberation Serif', 'Times New Roman', serif" font-size="29.3" fill="#0000ff" >0.6</text>
<text transform="translate(1316.5,175.1) scale(1,1.15)" text-anchor="start" font-family="'Liberation Serif', 'Times New Roman', serif" font-size="29.3" fill="#0000ff" >0.8</text>
<text transform="translate(1316.5,96.0) scale(1,1.15)" text-anchor="start" font-family="'Liberation Serif', 'Times New Roman', serif" font-size="29.3" fill="#0000ff" >1.0</text>
<text transform="translate(1125.7,40.0) scale(1,1.08)" text-anchor="middle" font-family="'Liberation Serif', 'Times New Roman', serif" font-size="32.8" fill="#000" >SHG wavelength (nm)</text>
<text transform="translate(1117.0,547.5) scale(1,1.08)" text-anchor="middle" font-family="'Liberation Serif', 'Times New Roman', serif" font-size="32.6" fill="#000" >Pump wavelength (nm)</text>
<text transform="translate(843.5,273) rotate(-90) scale(1.06,1.1)" text-anchor="middle" font-family="'Liberation Serif', 'Times New Roman', serif" font-size="31" fill="#ff0000">SHG intensity (a.u.)</text>
<text transform="translate(1385,280) rotate(-90) scale(1.06,1.1)" text-anchor="middle" font-family="'Liberation Serif', 'Times New Roman', serif" font-size="31" fill="#0000ff">Reflectivity</text>
<defs><linearGradient id="pilg" x1="0" y1="0" x2="0" y2="1"><stop offset="0" stop-color="#505050"/><stop offset="0.5" stop-color="#5a5a5a"/><stop offset="0.66" stop-color="#6c6c6c"/><stop offset="0.78" stop-color="#9a9a9a"/><stop offset="0.9" stop-color="#d4d4d4"/><stop offset="1" stop-color="#c4c4c4"/></linearGradient><linearGradient id="pilh" x1="0" y1="0" x2="1" y2="0"><stop offset="0" stop-color="#fff" stop-opacity="0.55"/><stop offset="0.1" stop-color="#fff" stop-opacity="0.08"/><stop offset="0.88" stop-color="#fff" stop-opacity="0.0"/><stop offset="1" stop-color="#fff" stop-opacity="0.45"/></linearGradient><linearGradient id="bgtop" x1="0" y1="0" x2="0" y2="1"><stop offset="0" stop-color="#4c4c4c"/><stop offset="0.112" stop-color="#505050"/><stop offset="0.147" stop-color="#626262"/><stop offset="0.173" stop-color="#424242"/><stop offset="0.262" stop-color="#464646"/><stop offset="0.367" stop-color="#4e4e4e"/><stop offset="0.397" stop-color="#5e5e5e"/><stop offset="0.43" stop-color="#424242"/><stop offset="0.6" stop-color="#484848"/><stop offset="0.654" stop-color="#525252"/><stop offset="0.688" stop-color="#343434"/><stop offset="0.785" stop-color="#333333"/><stop offset="1" stop-color="#3a3a3a"/></linearGradient><radialGradient id="domeg" cx="0.5" cy="0.45" r="0.55"><stop offset="0" stop-color="#242424"/><stop offset="0.75" stop-color="#333"/><stop offset="0.92" stop-color="#5a5a5a"/><stop offset="1" stop-color="#6a6a6a" stop-opacity="0"/></radialGradient><radialGradient id="shadow" cx="0.5" cy="0.3" r="0.6"><stop offset="0" stop-color="#1c1c1c" stop-opacity="0.9"/><stop offset="1" stop-color="#1c1c1c" stop-opacity="0"/></radialGradient></defs>
<rect x="1413.5" y="29.7" width="268.3" height="267.9" fill="url(#bgtop)"/>
<ellipse cx="1448" cy="230.5" rx="31.5" ry="14" fill="url(#shadow)"/>
<path d="M1427.0,29.7 L1469.0,29.7 L1469.0,209.7 A21.0,16.8 0 0 1 1427.0,209.7 Z" fill="url(#pilg)"/>
<path d="M1430.0,65.7 L1430.0,46.7 A18.0,16.0 0 0 1 1466.0,46.7 L1466.0,65.7 Z" fill="url(#domeg)"/>
<path d="M1430.0,46.7 A18.0,16.0 0 0 1 1466.0,46.7" fill="none" stroke="#8a8a8a" stroke-width="1.2"/>
<path d="M1431.0,140 L1431.0,117 A17.0,17.0 0 0 1 1465.0,117 L1465.0,140 Z" fill="url(#domeg)"/>
<path d="M1431.0,117 A17.0,17.0 0 0 1 1465.0,117" fill="none" stroke="#909090" stroke-width="1.2"/>
<path d="M1427.0,29.7 L1469.0,29.7 L1469.0,209.7 A21.0,16.8 0 0 1 1427.0,209.7 Z" fill="url(#pilh)"/>
<path d="M1427.0,29.7 V209.7 A21.0,16.8 0 0 0 1469.0,209.7 V29.7" fill="none" stroke="#f0f0f0" stroke-width="1.5" stroke-opacity="0.8"/>
<path d="M1428.0,205.7 A20.0,15.8 0 0 0 1468.0,205.7" fill="none" stroke="#f4f4f4" stroke-width="3" stroke-opacity="0.7"/>
<ellipse cx="1427.5" cy="68.5" rx="2.2" ry="4.5" fill="#fff" opacity="0.55"/>
<ellipse cx="1468.5" cy="68.5" rx="2.2" ry="4.5" fill="#fff" opacity="0.55"/>
<ellipse cx="1427.5" cy="135.5" rx="2.2" ry="4.5" fill="#fff" opacity="0.55"/>
<ellipse cx="1468.5" cy="135.5" rx="2.2" ry="4.5" fill="#fff" opacity="0.55"/>
<ellipse cx="1542.7" cy="230.5" rx="31.5" ry="14" fill="url(#shadow)"/>
<path d="M1521.7,29.7 L1563.7,29.7 L1563.7,209.7 A21.0,16.8 0 0 1 1521.7,209.7 Z" fill="url(#pilg)"/>
<path d="M1524.7,65.7 L1524.7,46.7 A18.0,16.0 0 0 1 1560.7,46.7 L1560.7,65.7 Z" fill="url(#domeg)"/>
<path d="M1524.7,46.7 A18.0,16.0 0 0 1 1560.7,46.7" fill="none" stroke="#8a8a8a" stroke-width="1.2"/>
<path d="M1525.7,140 L1525.7,117 A17.0,17.0 0 0 1 1559.7,117 L1559.7,140 Z" fill="url(#domeg)"/>
<path d="M1525.7,117 A17.0,17.0 0 0 1 1559.7,117" fill="none" stroke="#909090" stroke-width="1.2"/>
<path d="M1521.7,29.7 L1563.7,29.7 L1563.7,209.7 A21.0,16.8 0 0 1 1521.7,209.7 Z" fill="url(#pilh)"/>
<path d="M1521.7,29.7 V209.7 A21.0,16.8 0 0 0 1563.7,209.7 V29.7" fill="none" stroke="#f0f0f0" stroke-width="1.5" stroke-opacity="0.8"/>
<path d="M1522.7,205.7 A20.0,15.8 0 0 0 1562.7,205.7" fill="none" stroke="#f4f4f4" stroke-width="3" stroke-opacity="0.7"/>
<ellipse cx="1522.2" cy="68.5" rx="2.2" ry="4.5" fill="#fff" opacity="0.55"/>
<ellipse cx="1563.2" cy="68.5" rx="2.2" ry="4.5" fill="#fff" opacity="0.55"/>
<ellipse cx="1522.2" cy="135.5" rx="2.2" ry="4.5" fill="#fff" opacity="0.55"/>
<ellipse cx="1563.2" cy="135.5" rx="2.2" ry="4.5" fill="#fff" opacity="0.55"/>
<ellipse cx="1636.5" cy="230.5" rx="31.5" ry="14" fill="url(#shadow)"/>
<path d="M1615.5,29.7 L1657.5,29.7 L1657.5,209.7 A21.0,16.8 0 0 1 1615.5,209.7 Z" fill="url(#pilg)"/>
<path d="M1618.5,65.7 L1618.5,46.7 A18.0,16.0 0 0 1 1654.5,46.7 L1654.5,65.7 Z" fill="url(#domeg)"/>
<path d="M1618.5,46.7 A18.0,16.0 0 0 1 1654.5,46.7" fill="none" stroke="#8a8a8a" stroke-width="1.2"/>
<path d="M1619.5,140 L1619.5,117 A17.0,17.0 0 0 1 1653.5,117 L1653.5,140 Z" fill="url(#domeg)"/>
<path d="M1619.5,117 A17.0,17.0 0 0 1 1653.5,117" fill="none" stroke="#909090" stroke-width="1.2"/>
<path d="M1615.5,29.7 L1657.5,29.7 L1657.5,209.7 A21.0,16.8 0 0 1 1615.5,209.7 Z" fill="url(#pilh)"/>
<path d="M1615.5,29.7 V209.7 A21.0,16.8 0 0 0 1657.5,209.7 V29.7" fill="none" stroke="#f0f0f0" stroke-width="1.5" stroke-opacity="0.8"/>
<path d="M1616.5,205.7 A20.0,15.8 0 0 0 1656.5,205.7" fill="none" stroke="#f4f4f4" stroke-width="3" stroke-opacity="0.7"/>
<ellipse cx="1616.0" cy="68.5" rx="2.2" ry="4.5" fill="#fff" opacity="0.55"/>
<ellipse cx="1657.0" cy="68.5" rx="2.2" ry="4.5" fill="#fff" opacity="0.55"/>
<ellipse cx="1616.0" cy="135.5" rx="2.2" ry="4.5" fill="#fff" opacity="0.55"/>
<ellipse cx="1657.0" cy="135.5" rx="2.2" ry="4.5" fill="#fff" opacity="0.55"/>
<rect x="1500.4" y="272.2" width="161.6" height="12.3" fill="#fff"/>
<text transform="translate(1581,259.7) scale(1,1.05)" text-anchor="middle" font-family="'Liberation Serif', 'Times New Roman', serif" font-size="39.5" fill="#fff">1 µm</text>
<rect x="1413.5" y="297.6" width="268.3" height="2" fill="#fff"/>
<defs><radialGradient id="discg" cx="0.45" cy="0.45" r="0.55"><stop offset="0" stop-color="#8e8e8e"/><stop offset="0.85" stop-color="#8a8a8a"/><stop offset="1" stop-color="#9c9c9c"/></radialGradient></defs>
<rect x="1413.5" y="299.6" width="268.3" height="248.4" fill="#474747"/>
<ellipse cx="1447" cy="325.2" rx="22" ry="21.5" fill="url(#discg)"/>
<ellipse cx="1543.6" cy="325.2" rx="22" ry="21.5" fill="url(#discg)"/>
<ellipse cx="1642.3" cy="325.2" rx="22" ry="21.5" fill="url(#discg)"/>
<ellipse cx="1447" cy="416.8" rx="22" ry="21.5" fill="url(#discg)"/>
<ellipse cx="1543.6" cy="416.8" rx="22" ry="21.5" fill="url(#discg)"/>
<ellipse cx="1642.3" cy="416.8" rx="22" ry="21.5" fill="url(#discg)"/>
<ellipse cx="1447" cy="508.2" rx="22" ry="21.5" fill="url(#discg)"/>
<ellipse cx="1543.6" cy="508.2" rx="22" ry="21.5" fill="url(#discg)"/>
<ellipse cx="1642.3" cy="508.2" rx="22" ry="21.5" fill="url(#discg)"/>
<rect x="1480.9" y="507.7" width="164.3" height="12.3" fill="#fff"/>
<text transform="translate(1569.7,488.9) scale(1,1.05)" text-anchor="middle" font-family="'Liberation Serif', 'Times New Roman', serif" font-size="39.5" fill="#fff">1 µm</text>
<rect x="4" y="612" width="1694" height="548" fill="#fff" stroke="#000" stroke-width="4"/>
<defs><linearGradient id="bg3d" x1="0" y1="0" x2="0" y2="1"><stop offset="0" stop-color="#19212b"/><stop offset="0.14" stop-color="#2b333e"/><stop offset="0.336" stop-color="#464e59"/><stop offset="0.49" stop-color="#646b75"/><stop offset="0.72" stop-color="#9ba1a9"/><stop offset="0.9" stop-color="#d2d7de"/><stop offset="1" stop-color="#edf0f4"/></linearGradient><radialGradient id="bgdark" cx="1" cy="0" r="0.75"><stop offset="0" stop-color="#000" stop-opacity="0.55"/><stop offset="0.6" stop-color="#000" stop-opacity="0.2"/><stop offset="1" stop-color="#000" stop-opacity="0"/></radialGradient><linearGradient id="beamh" x1="0" y1="0" x2="1" y2="0"><stop offset="0" stop-color="#b04050" stop-opacity="0"/><stop offset="0.06" stop-color="#b84a58" stop-opacity="0.55"/><stop offset="0.2" stop-color="#c85564" stop-opacity="0.85"/><stop offset="0.5" stop-color="#d8606e" stop-opacity="0.95"/><stop offset="0.8" stop-color="#c85564" stop-opacity="0.85"/><stop offset="0.94" stop-color="#b84a58" stop-opacity="0.55"/><stop offset="1" stop-color="#b04050" stop-opacity="0"/></linearGradient><linearGradient id="beamv" x1="0" y1="0" x2="0" y2="1"><stop offset="0" stop-color="#fff" stop-opacity="0"/><stop offset="0.5" stop-color="#ff8090" stop-opacity="0.2"/><stop offset="1" stop-color="#ff8a98" stop-opacity="0.5"/></linearGradient><linearGradient id="beamfade" x1="0" y1="0" x2="0" y2="1"><stop offset="0" stop-color="#eaa0a0" stop-opacity="0.6"/><stop offset="0.5" stop-color="#e8b0a8" stop-opacity="0.35"/><stop offset="1" stop-color="#e8b0a8" stop-opacity="0"/></linearGradient><linearGradient id="greentop" x1="0" y1="0" x2="0" y2="1"><stop offset="0" stop-color="#508655"/><stop offset="1" stop-color="#478250"/></linearGradient><radialGradient id="spot" cx="0.5" cy="0.5" r="0.5"><stop offset="0" stop-color="#ffffff"/><stop offset="0.6" stop-color="#fffef4"/><stop offset="0.88" stop-color="#fcf8dc"/><stop offset="1" stop-color="#f2eec4" stop-opacity="0.85"/></radialGradient><radialGradient id="halo" cx="0.5" cy="0.5" r="0.5"><stop offset="0" stop-color="#a8e0a8" stop-opacity="0.9"/><stop offset="0.5" stop-color="#80c888" stop-opacity="0.5"/><stop offset="1" stop-color="#6ab070" stop-opacity="0"/></radialGradient><linearGradient id="subg" x1="0" y1="0" x2="1" y2="0"><stop offset="0" stop-color="#9da1a8"/><stop offset="0.5" stop-color="#989ca4"/><stop offset="1" stop-color="#9b9fa6"/></linearGradient></defs>
<rect x="22.3" y="628" width="645.5" height="513.7" fill="url(#bg3d)"/>
<rect x="22.3" y="628" width="645.5" height="513.7" fill="url(#bgdark)"/>
<path d="M187.6,628 L503.3,628 L495,800 L197,800 Z" fill="url(#beamh)"/>
<path d="M200,628 L490,628 L485,800 L207,800 Z" fill="url(#beamv)"/>
<path d="M43,1056 L647.5,1056 L632,1141.7 L58.7,1141.7 Z" fill="url(#subg)"/>
<path d="M39.5,1038.3 L652,1038.3 L648.5,1056.3 L42.5,1056.3 Z" fill="#d4d32c"/>
<rect x="38.6" y="1035.6" width="614.6" height="2.8" fill="#6c4656"/>
<rect x="38.6" y="1023.4" width="614.6" height="12.4" fill="#1f4f3c"/>
<rect x="38.6" y="1023.4" width="614.6" height="5" fill="#1b5a36"/>
<rect x="38.6" y="1030.5" width="614.6" height="2" fill="#2f6450"/>
<path d="M147.8,774.7 L544.8,774.7 L653.2,1023.4 L38.6,1023.4 Z" fill="url(#greentop)"/>
<ellipse cx="345" cy="935" rx="210" ry="95" fill="url(#halo)"/>
<ellipse cx="345.5" cy="882" rx="141" ry="69" fill="url(#spot)"/>
<path d="M197,774.7 L495,774.7 L492,830 L200,830 Z" fill="url(#beamfade)"/>
<path d="M57.1,995.0 L82.3,995.0 L80.3,1000.1 L54.9,1000.1ZM73.1,992.9 L79.3,992.9 L69.4,1017.7 L63.1,1017.7ZM91.0,995.0 L116.2,995.0 L114.4,1000.1 L89.1,1000.1ZM107.0,992.9 L113.1,992.9 L104.5,1017.7 L98.1,1017.7ZM124.9,995.0 L150.1,995.0 L148.6,1000.1 L123.2,1000.1ZM140.8,992.9 L146.9,992.9 L139.5,1017.7 L133.2,1017.7ZM158.8,995.0 L184.0,995.0 L182.8,1000.1 L157.4,1000.1ZM174.6,992.9 L180.7,992.9 L174.6,1017.7 L168.2,1017.7ZM192.7,995.0 L217.9,995.0 L216.9,1000.1 L191.6,1000.1ZM208.4,992.9 L214.5,992.9 L209.6,1017.7 L203.3,1017.7ZM226.6,995.0 L251.8,995.0 L251.1,1000.1 L225.7,1000.1ZM242.2,992.9 L248.3,992.9 L244.7,1017.7 L238.3,1017.7ZM260.5,995.0 L285.7,995.0 L285.3,1000.1 L259.9,1000.1ZM276.0,992.9 L282.1,992.9 L279.7,1017.7 L273.4,1017.7ZM294.5,995.0 L319.6,995.0 L319.4,1000.1 L294.1,1000.1ZM309.8,992.9 L315.9,992.9 L314.8,1017.7 L308.4,1017.7ZM328.4,995.0 L353.5,995.0 L353.6,1000.1 L328.2,1000.1ZM343.6,992.9 L349.7,992.9 L349.8,1017.7 L343.5,1017.7ZM362.3,995.0 L387.5,995.0 L387.8,1000.1 L362.4,1000.1ZM377.4,992.9 L383.5,992.9 L384.9,1017.7 L378.6,1017.7ZM396.2,995.0 L421.4,995.0 L421.9,1000.1 L396.6,1000.1ZM411.2,992.9 L417.3,992.9 L420.0,1017.7 L413.6,1017.7ZM430.1,995.0 L455.3,995.0 L456.1,1000.1 L430.7,1000.1ZM445.0,992.9 L451.1,992.9 L455.0,1017.7 L448.7,1017.7ZM464.0,995.0 L489.2,995.0 L490.3,1000.1 L464.9,1000.1ZM478.8,992.9 L484.9,992.9 L490.1,1017.7 L483.7,1017.7ZM497.9,995.0 L523.1,995.0 L524.4,1000.1 L499.1,1000.1ZM512.6,992.9 L518.7,992.9 L525.1,1017.7 L518.8,1017.7ZM531.8,995.0 L557.0,995.0 L558.6,1000.1 L533.2,1000.1ZM546.4,992.9 L552.5,992.9 L560.2,1017.7 L553.8,1017.7ZM565.8,995.0 L590.9,995.0 L592.8,1000.1 L567.4,1000.1ZM580.2,992.9 L586.3,992.9 L595.2,1017.7 L588.9,1017.7ZM599.7,995.0 L624.8,995.0 L626.9,1000.1 L601.6,1000.1ZM614.0,992.9 L620.1,992.9 L630.3,1017.7 L623.9,1017.7ZM70.3,964.2 L94.3,964.2 L92.5,968.8 L68.3,968.8ZM85.6,962.2 L91.4,962.2 L82.5,984.8 L76.4,984.8ZM102.7,964.2 L126.7,964.2 L125.1,968.8 L100.9,968.8ZM117.9,962.2 L123.7,962.2 L115.9,984.8 L109.8,984.8ZM135.0,964.2 L159.0,964.2 L157.7,968.8 L133.5,968.8ZM150.1,962.2 L156.0,962.2 L149.3,984.8 L143.2,984.8ZM167.4,964.2 L191.4,964.2 L190.3,968.8 L166.1,968.8ZM182.4,962.2 L188.2,962.2 L182.7,984.8 L176.6,984.8ZM199.7,964.2 L223.8,964.2 L222.9,968.8 L198.7,968.8ZM214.6,962.2 L220.5,962.2 L216.1,984.8 L210.0,984.8ZM232.1,964.2 L256.1,964.2 L255.5,968.8 L231.3,968.8ZM246.9,962.2 L252.7,962.2 L249.5,984.8 L243.4,984.8ZM264.5,964.2 L288.5,964.2 L288.1,968.8 L263.9,968.8ZM279.2,962.2 L285.0,962.2 L282.9,984.8 L276.8,984.8ZM296.8,964.2 L320.8,964.2 L320.7,968.8 L296.5,968.8ZM311.4,962.2 L317.3,962.2 L316.3,984.8 L310.2,984.8ZM329.2,964.2 L353.2,964.2 L353.3,968.8 L329.1,968.8ZM343.7,962.2 L349.5,962.2 L349.7,984.8 L343.6,984.8ZM361.5,964.2 L385.6,964.2 L385.8,968.8 L361.6,968.8ZM376.0,962.2 L381.8,962.2 L383.1,984.8 L377.0,984.8ZM393.9,964.2 L417.9,964.2 L418.4,968.8 L394.2,968.8ZM408.2,962.2 L414.1,962.2 L416.5,984.8 L410.4,984.8ZM426.3,964.2 L450.3,964.2 L451.0,968.8 L426.8,968.8ZM440.5,962.2 L446.3,962.2 L449.9,984.8 L443.8,984.8ZM458.6,964.2 L482.6,964.2 L483.6,968.8 L459.4,968.8ZM472.8,962.2 L478.6,962.2 L483.3,984.8 L477.2,984.8ZM491.0,964.2 L515.0,964.2 L516.2,968.8 L492.0,968.8ZM505.0,962.2 L510.9,962.2 L516.7,984.8 L510.6,984.8ZM523.3,964.2 L547.4,964.2 L548.8,968.8 L524.6,968.8ZM537.3,962.2 L543.1,962.2 L550.1,984.8 L544.0,984.8ZM555.7,964.2 L579.7,964.2 L581.4,968.8 L557.2,968.8ZM569.5,962.2 L575.4,962.2 L583.5,984.8 L577.4,984.8ZM588.1,964.2 L612.1,964.2 L614.0,968.8 L589.8,968.8ZM601.8,962.2 L607.6,962.2 L616.9,984.8 L610.8,984.8ZM82.4,936.0 L105.3,936.0 L103.7,940.2 L80.5,940.2ZM97.0,934.3 L102.5,934.3 L94.4,954.9 L88.6,954.9ZM113.3,936.0 L136.3,936.0 L134.8,940.2 L111.7,940.2ZM127.8,934.3 L133.4,934.3 L126.2,954.9 L120.5,954.9ZM144.2,936.0 L167.2,936.0 L166.0,940.2 L142.9,940.2ZM158.7,934.3 L164.2,934.3 L158.1,954.9 L152.4,954.9ZM175.2,936.0 L198.2,936.0 L197.2,940.2 L174.0,940.2ZM189.5,934.3 L195.1,934.3 L190.0,954.9 L184.3,954.9ZM206.1,936.0 L229.1,936.0 L228.3,940.2 L205.2,940.2ZM220.4,934.3 L226.0,934.3 L221.9,954.9 L216.2,954.9ZM237.1,936.0 L260.1,936.0 L259.5,940.2 L236.3,940.2ZM251.2,934.3 L256.8,934.3 L253.8,954.9 L248.0,954.9ZM268.0,936.0 L291.0,936.0 L290.6,940.2 L267.5,940.2ZM282.1,934.3 L287.7,934.3 L285.7,954.9 L279.9,954.9ZM299.0,936.0 L321.9,936.0 L321.8,940.2 L298.6,940.2ZM312.9,934.3 L318.5,934.3 L317.6,954.9 L311.8,954.9ZM329.9,936.0 L352.9,936.0 L352.9,940.2 L329.8,940.2ZM343.8,934.3 L349.4,934.3 L349.5,954.9 L343.7,954.9ZM360.9,936.0 L383.8,936.0 L384.1,940.2 L361.0,940.2ZM374.7,934.3 L380.2,934.3 L381.4,954.9 L375.6,954.9ZM391.8,936.0 L414.8,936.0 L415.2,940.2 L392.1,940.2ZM405.5,934.3 L411.1,934.3 L413.3,954.9 L407.5,954.9ZM422.7,936.0 L445.7,936.0 L446.4,940.2 L423.3,940.2ZM436.4,934.3 L441.9,934.3 L445.2,954.9 L439.4,954.9ZM453.7,936.0 L476.7,936.0 L477.6,940.2 L454.4,940.2ZM467.2,934.3 L472.8,934.3 L477.1,954.9 L471.3,954.9ZM484.6,936.0 L507.6,936.0 L508.7,940.2 L485.6,940.2ZM498.1,934.3 L503.7,934.3 L509.0,954.9 L503.2,954.9ZM515.6,936.0 L538.6,936.0 L539.9,940.2 L516.7,940.2ZM528.9,934.3 L534.5,934.3 L540.9,954.9 L535.1,954.9ZM546.5,936.0 L569.5,936.0 L571.0,940.2 L547.9,940.2ZM559.8,934.3 L565.4,934.3 L572.7,954.9 L567.0,954.9ZM577.5,936.0 L600.4,936.0 L602.2,940.2 L579.1,940.2ZM590.6,934.3 L596.2,934.3 L604.6,954.9 L598.9,954.9ZM93.4,910.2 L115.4,910.2 L113.9,914.1 L91.7,914.1ZM107.4,908.6 L112.7,908.6 L105.2,927.5 L99.7,927.5ZM123.1,910.2 L145.1,910.2 L143.8,914.1 L121.6,914.1ZM136.9,908.6 L142.3,908.6 L135.7,927.5 L130.2,927.5ZM152.7,910.2 L174.7,910.2 L173.6,914.1 L151.4,914.1ZM166.5,908.6 L171.8,908.6 L166.2,927.5 L160.7,927.5ZM182.3,910.2 L204.4,910.2 L203.4,914.1 L181.3,914.1ZM196.1,908.6 L201.4,908.6 L196.8,927.5 L191.2,927.5ZM212.0,910.2 L234.0,910.2 L233.3,914.1 L211.1,914.1ZM225.6,908.6 L231.0,908.6 L227.3,927.5 L221.8,927.5ZM241.6,910.2 L263.7,910.2 L263.1,914.1 L241.0,914.1ZM255.2,908.6 L260.5,908.6 L257.8,927.5 L252.3,927.5ZM271.3,910.2 L293.3,910.2 L293.0,914.1 L270.8,914.1ZM284.8,908.6 L290.1,908.6 L288.3,927.5 L282.8,927.5ZM300.9,910.2 L323.0,910.2 L322.8,914.1 L300.6,914.1ZM314.3,908.6 L319.7,908.6 L318.8,927.5 L313.3,927.5ZM330.6,910.2 L352.6,910.2 L352.6,914.1 L330.5,914.1ZM343.9,908.6 L349.2,908.6 L349.3,927.5 L343.8,927.5ZM360.2,910.2 L382.2,910.2 L382.5,914.1 L360.3,914.1ZM373.5,908.6 L378.8,908.6 L379.9,927.5 L374.3,927.5ZM389.9,910.2 L411.9,910.2 L412.3,914.1 L390.2,914.1ZM403.0,908.6 L408.4,908.6 L410.4,927.5 L404.9,927.5ZM419.5,910.2 L441.5,910.2 L442.2,914.1 L420.0,914.1ZM432.6,908.6 L437.9,908.6 L440.9,927.5 L435.4,927.5ZM449.2,910.2 L471.2,910.2 L472.0,914.1 L449.8,914.1ZM462.2,908.6 L467.5,908.6 L471.4,927.5 L465.9,927.5ZM478.8,910.2 L500.8,910.2 L501.9,914.1 L479.7,914.1ZM491.7,908.6 L497.1,908.6 L501.9,927.5 L496.4,927.5ZM508.5,910.2 L530.5,910.2 L531.7,914.1 L509.5,914.1ZM521.3,908.6 L526.6,908.6 L532.4,927.5 L526.9,927.5ZM538.1,910.2 L560.1,910.2 L561.5,914.1 L539.4,914.1ZM550.8,908.6 L556.2,908.6 L563.0,927.5 L557.4,927.5ZM567.8,910.2 L589.8,910.2 L591.4,914.1 L569.2,914.1ZM580.4,908.6 L585.8,908.6 L593.5,927.5 L588.0,927.5ZM103.6,886.5 L124.7,886.5 L123.3,890.1 L102.0,890.1ZM116.9,885.0 L122.1,885.0 L115.2,902.4 L109.9,902.4ZM132.0,886.5 L153.2,886.5 L151.9,890.1 L130.7,890.1ZM145.3,885.0 L150.5,885.0 L144.4,902.4 L139.1,902.4ZM160.5,886.5 L181.6,886.5 L180.6,890.1 L159.3,890.1ZM173.7,885.0 L178.8,885.0 L173.7,902.4 L168.4,902.4ZM188.9,886.5 L210.1,886.5 L209.2,890.1 L187.9,890.1ZM202.1,885.0 L207.2,885.0 L202.9,902.4 L197.6,902.4ZM217.4,886.5 L238.5,886.5 L237.8,890.1 L216.6,890.1ZM230.5,885.0 L235.6,885.0 L232.2,902.4 L226.9,902.4ZM245.8,886.5 L267.0,886.5 L266.5,890.1 L245.2,890.1ZM258.8,885.0 L264.0,885.0 L261.4,902.4 L256.2,902.4ZM274.3,886.5 L295.4,886.5 L295.1,890.1 L273.8,890.1ZM287.2,885.0 L292.4,885.0 L290.7,902.4 L285.4,902.4ZM302.8,886.5 L323.9,886.5 L323.7,890.1 L302.5,890.1ZM315.6,885.0 L320.7,885.0 L320.0,902.4 L314.7,902.4ZM331.2,886.5 L352.3,886.5 L352.4,890.1 L331.1,890.1ZM344.0,885.0 L349.1,885.0 L349.2,902.4 L343.9,902.4ZM359.7,886.5 L380.8,886.5 L381.0,890.1 L359.7,890.1ZM372.4,885.0 L377.5,885.0 L378.5,902.4 L373.2,902.4ZM388.1,886.5 L409.2,886.5 L409.6,890.1 L388.4,890.1ZM400.7,885.0 L405.9,885.0 L407.7,902.4 L402.4,902.4ZM416.6,886.5 L437.7,886.5 L438.3,890.1 L417.0,890.1ZM429.1,885.0 L434.2,885.0 L437.0,902.4 L431.7,902.4ZM445.0,886.5 L466.1,886.5 L466.9,890.1 L445.6,890.1ZM457.5,885.0 L462.6,885.0 L466.2,902.4 L460.9,902.4ZM473.5,886.5 L494.6,886.5 L495.5,890.1 L474.3,890.1ZM485.9,885.0 L491.0,885.0 L495.5,902.4 L490.2,902.4ZM501.9,886.5 L523.1,886.5 L524.2,890.1 L502.9,890.1ZM514.2,885.0 L519.4,885.0 L524.7,902.4 L519.4,902.4ZM530.4,886.5 L551.5,886.5 L552.8,890.1 L531.5,890.1ZM542.6,885.0 L547.8,885.0 L554.0,902.4 L548.7,902.4ZM558.8,886.5 L580.0,886.5 L581.4,890.1 L560.2,890.1ZM571.0,885.0 L576.1,885.0 L583.2,902.4 L577.9,902.4ZM113.0,864.6 L133.3,864.6 L132.0,867.9 L111.5,867.9ZM125.8,863.3 L130.7,863.3 L124.3,879.3 L119.3,879.3ZM140.3,864.6 L160.6,864.6 L159.5,867.9 L139.1,867.9ZM153.1,863.3 L158.0,863.3 L152.4,879.3 L147.4,879.3ZM167.7,864.6 L188.0,864.6 L187.0,867.9 L166.6,867.9ZM180.4,863.3 L185.3,863.3 L180.5,879.3 L175.4,879.3ZM195.0,864.6 L215.3,864.6 L214.5,867.9 L194.1,867.9ZM207.6,863.3 L212.6,863.3 L208.6,879.3 L203.5,879.3ZM222.4,864.6 L242.7,864.6 L242.1,867.9 L221.6,867.9ZM234.9,863.3 L239.9,863.3 L236.7,879.3 L231.6,879.3ZM249.7,864.6 L270.0,864.6 L269.6,867.9 L249.1,867.9ZM262.2,863.3 L267.1,863.3 L264.8,879.3 L259.7,879.3ZM277.1,864.6 L297.4,864.6 L297.1,867.9 L276.7,867.9ZM289.5,863.3 L294.4,863.3 L292.9,879.3 L287.8,879.3ZM304.4,864.6 L324.7,864.6 L324.6,867.9 L304.2,867.9ZM316.8,863.3 L321.7,863.3 L321.0,879.3 L315.9,879.3ZM331.8,864.6 L352.1,864.6 L352.1,867.9 L331.7,867.9ZM344.1,863.3 L349.0,863.3 L349.1,879.3 L344.0,879.3ZM359.1,864.6 L379.4,864.6 L379.6,867.9 L359.2,867.9ZM371.3,863.3 L376.3,863.3 L377.2,879.3 L372.1,879.3ZM386.5,864.6 L406.8,864.6 L407.2,867.9 L386.7,867.9ZM398.6,863.3 L403.6,863.3 L405.3,879.3 L400.2,879.3ZM413.8,864.6 L434.1,864.6 L434.7,867.9 L414.2,867.9ZM425.9,863.3 L430.8,863.3 L433.4,879.3 L428.3,879.3ZM441.2,864.6 L461.5,864.6 L462.2,867.9 L441.8,867.9ZM453.2,863.3 L458.1,863.3 L461.4,879.3 L456.4,879.3ZM468.5,864.6 L488.9,864.6 L489.7,867.9 L469.3,867.9ZM480.5,863.3 L485.4,863.3 L489.5,879.3 L484.5,879.3ZM495.9,864.6 L516.2,864.6 L517.2,867.9 L496.8,867.9ZM507.8,863.3 L512.7,863.3 L517.6,879.3 L512.5,879.3ZM523.2,864.6 L543.6,864.6 L544.8,867.9 L524.3,867.9ZM535.0,863.3 L540.0,863.3 L545.7,879.3 L540.6,879.3ZM550.6,864.6 L570.9,864.6 L572.3,867.9 L551.8,867.9ZM562.3,863.3 L567.3,863.3 L573.8,879.3 L568.7,879.3ZM121.6,844.4 L141.2,844.4 L140.0,847.4 L120.3,847.4ZM134.0,843.1 L138.7,843.1 L132.8,858.0 L127.9,858.0ZM148.0,844.4 L167.5,844.4 L166.5,847.4 L146.8,847.4ZM160.2,843.1 L165.0,843.1 L159.8,858.0 L154.9,858.0ZM174.3,844.4 L193.9,844.4 L193.0,847.4 L173.3,847.4ZM186.5,843.1 L191.3,843.1 L186.8,858.0 L182.0,858.0ZM200.6,844.4 L220.2,844.4 L219.5,847.4 L199.8,847.4ZM212.8,843.1 L217.5,843.1 L213.9,858.0 L209.0,858.0ZM227.0,844.4 L246.5,844.4 L245.9,847.4 L226.3,847.4ZM239.0,843.1 L243.8,843.1 L240.9,858.0 L236.0,858.0ZM253.3,844.4 L272.9,844.4 L272.4,847.4 L252.8,847.4ZM265.3,843.1 L270.1,843.1 L267.9,858.0 L263.0,858.0ZM279.6,844.4 L299.2,844.4 L298.9,847.4 L279.3,847.4ZM291.6,843.1 L296.3,843.1 L294.9,858.0 L290.0,858.0ZM306.0,844.4 L325.5,844.4 L325.4,847.4 L305.7,847.4ZM317.9,843.1 L322.6,843.1 L321.9,858.0 L317.1,858.0ZM332.3,844.4 L351.9,844.4 L351.9,847.4 L332.2,847.4ZM344.1,843.1 L348.9,843.1 L349.0,858.0 L344.1,858.0ZM358.6,844.4 L378.2,844.4 L378.4,847.4 L358.7,847.4ZM370.4,843.1 L375.1,843.1 L376.0,858.0 L371.1,858.0ZM385.0,844.4 L404.5,844.4 L404.9,847.4 L385.2,847.4ZM396.7,843.1 L401.4,843.1 L403.0,858.0 L398.1,858.0ZM411.3,844.4 L430.9,844.4 L431.4,847.4 L411.7,847.4ZM422.9,843.1 L427.7,843.1 L430.0,858.0 L425.1,858.0ZM437.6,844.4 L457.2,844.4 L457.8,847.4 L438.2,847.4ZM449.2,843.1 L454.0,843.1 L457.0,858.0 L452.1,858.0ZM464.0,844.4 L483.5,844.4 L484.3,847.4 L464.7,847.4ZM475.5,843.1 L480.2,843.1 L484.1,858.0 L479.2,858.0ZM490.3,844.4 L509.9,844.4 L510.8,847.4 L491.2,847.4ZM501.7,843.1 L506.5,843.1 L511.1,858.0 L506.2,858.0ZM516.6,844.4 L536.2,844.4 L537.3,847.4 L517.6,847.4ZM528.0,843.1 L532.8,843.1 L538.1,858.0 L533.2,858.0ZM543.0,844.4 L562.5,844.4 L563.8,847.4 L544.1,847.4ZM554.3,843.1 L559.0,843.1 L565.1,858.0 L560.2,858.0ZM129.7,825.6 L148.5,825.6 L147.4,828.4 L128.5,828.4ZM141.6,824.4 L146.1,824.4 L140.7,838.2 L136.0,838.2ZM155.1,825.6 L173.9,825.6 L173.0,828.4 L154.0,828.4ZM166.9,824.4 L171.5,824.4 L166.7,838.2 L162.0,838.2ZM180.5,825.6 L199.3,825.6 L198.5,828.4 L179.5,828.4ZM192.2,824.4 L196.8,824.4 L192.7,838.2 L188.0,838.2ZM205.9,825.6 L224.7,825.6 L224.0,828.4 L205.1,828.4ZM217.5,824.4 L222.1,824.4 L218.7,838.2 L214.0,838.2ZM231.2,825.6 L250.1,825.6 L249.6,828.4 L230.6,828.4ZM242.9,824.4 L247.5,824.4 L244.8,838.2 L240.0,838.2ZM256.6,825.6 L275.5,825.6 L275.1,828.4 L256.1,828.4ZM268.2,824.4 L272.8,824.4 L270.8,838.2 L266.1,838.2ZM282.0,825.6 L300.9,825.6 L300.6,828.4 L281.7,828.4ZM293.5,824.4 L298.1,824.4 L296.8,838.2 L292.1,838.2ZM307.4,825.6 L326.3,825.6 L326.2,828.4 L307.2,828.4ZM318.9,824.4 L323.4,824.4 L322.8,838.2 L318.1,838.2ZM332.8,825.6 L351.7,825.6 L351.7,828.4 L332.7,828.4ZM344.2,824.4 L348.8,824.4 L348.9,838.2 L344.1,838.2ZM358.2,825.6 L377.0,825.6 L377.2,828.4 L358.3,828.4ZM369.5,824.4 L374.1,824.4 L374.9,838.2 L370.2,838.2ZM383.6,825.6 L402.4,825.6 L402.7,828.4 L383.8,828.4ZM394.9,824.4 L399.4,824.4 L400.9,838.2 L396.2,838.2ZM409.0,825.6 L427.8,825.6 L428.3,828.4 L409.3,828.4ZM420.2,824.4 L424.8,824.4 L426.9,838.2 L422.2,838.2ZM434.4,825.6 L453.2,825.6 L453.8,828.4 L434.8,828.4ZM445.5,824.4 L450.1,824.4 L452.9,838.2 L448.2,838.2ZM459.7,825.6 L478.6,825.6 L479.3,828.4 L460.4,828.4ZM470.8,824.4 L475.4,824.4 L479.0,838.2 L474.3,838.2ZM485.1,825.6 L504.0,825.6 L504.9,828.4 L485.9,828.4ZM496.2,824.4 L500.7,824.4 L505.0,838.2 L500.3,838.2ZM510.5,825.6 L529.4,825.6 L530.4,828.4 L511.4,828.4ZM521.5,824.4 L526.1,824.4 L531.0,838.2 L526.3,838.2ZM535.9,825.6 L554.8,825.6 L555.9,828.4 L537.0,828.4ZM546.8,824.4 L551.4,824.4 L557.0,838.2 L552.3,838.2ZM137.2,808.1 L155.4,808.1 L154.4,810.7 L136.1,810.7ZM148.6,807.0 L153.1,807.0 L147.9,819.9 L143.4,819.9ZM161.7,808.1 L179.9,808.1 L179.0,810.7 L160.7,810.7ZM173.1,807.0 L177.5,807.0 L173.0,819.9 L168.5,819.9ZM186.2,808.1 L204.4,808.1 L203.6,810.7 L185.3,810.7ZM197.5,807.0 L202.0,807.0 L198.1,819.9 L193.6,819.9ZM210.7,808.1 L228.9,808.1 L228.3,810.7 L210.0,810.7ZM222.0,807.0 L226.4,807.0 L223.2,819.9 L218.7,819.9ZM235.2,808.1 L253.4,808.1 L252.9,810.7 L234.6,810.7ZM246.4,807.0 L250.9,807.0 L248.3,819.9 L243.8,819.9ZM259.7,808.1 L277.9,808.1 L277.6,810.7 L259.3,810.7ZM270.9,807.0 L275.3,807.0 L273.4,819.9 L268.9,819.9ZM284.2,808.1 L302.4,808.1 L302.2,810.7 L283.9,810.7ZM295.4,807.0 L299.8,807.0 L298.5,819.9 L294.0,819.9ZM308.7,808.1 L326.9,808.1 L326.8,810.7 L308.5,810.7ZM319.8,807.0 L324.2,807.0 L323.6,819.9 L319.1,819.9ZM333.3,808.1 L351.5,808.1 L351.5,810.7 L333.2,810.7ZM344.3,807.0 L348.7,807.0 L348.8,819.9 L344.2,819.9ZM357.8,808.1 L376.0,808.1 L376.1,810.7 L357.8,810.7ZM368.7,807.0 L373.1,807.0 L373.9,819.9 L369.3,819.9ZM382.3,808.1 L400.5,808.1 L400.8,810.7 L382.5,810.7ZM393.2,807.0 L397.6,807.0 L399.0,819.9 L394.4,819.9ZM406.8,808.1 L425.0,808.1 L425.4,810.7 L407.1,810.7ZM417.6,807.0 L422.0,807.0 L424.1,819.9 L419.5,819.9ZM431.3,808.1 L449.5,808.1 L450.1,810.7 L431.8,810.7ZM442.1,807.0 L446.5,807.0 L449.2,819.9 L444.6,819.9ZM455.8,808.1 L474.0,808.1 L474.7,810.7 L456.4,810.7ZM466.5,807.0 L470.9,807.0 L474.3,819.9 L469.7,819.9ZM480.3,808.1 L498.5,808.1 L499.3,810.7 L481.0,810.7ZM491.0,807.0 L495.4,807.0 L499.4,819.9 L494.8,819.9ZM504.8,808.1 L523.0,808.1 L524.0,810.7 L505.7,810.7ZM515.4,807.0 L519.9,807.0 L524.5,819.9 L519.9,819.9ZM529.3,808.1 L547.5,808.1 L548.6,810.7 L530.3,810.7ZM539.9,807.0 L544.3,807.0 L549.6,819.9 L545.0,819.9ZM144.2,791.8 L161.8,791.8 L160.8,794.2 L143.1,794.2ZM155.2,790.7 L159.5,790.7 L154.7,802.8 L150.4,802.8ZM167.9,791.8 L185.5,791.8 L184.6,794.2 L166.9,794.2ZM178.9,790.7 L183.1,790.7 L179.0,802.8 L174.6,802.8ZM191.6,791.8 L209.1,791.8 L208.4,794.2 L190.7,794.2ZM202.5,790.7 L206.8,790.7 L203.2,802.8 L198.8,802.8ZM215.2,791.8 L232.8,791.8 L232.2,794.2 L214.6,794.2ZM226.1,790.7 L230.4,790.7 L227.5,802.8 L223.1,802.8ZM238.9,791.8 L256.5,791.8 L256.1,794.2 L238.4,794.2ZM249.8,790.7 L254.0,790.7 L251.7,802.8 L247.3,802.8ZM262.6,791.8 L280.2,791.8 L279.9,794.2 L262.2,794.2ZM273.4,790.7 L277.7,790.7 L275.9,802.8 L271.6,802.8ZM286.3,791.8 L303.9,791.8 L303.7,794.2 L286.0,794.2ZM297.0,790.7 L301.3,790.7 L300.2,802.8 L295.8,802.8ZM310.0,791.8 L327.6,791.8 L327.5,794.2 L309.8,794.2ZM320.7,790.7 L325.0,790.7 L324.4,802.8 L320.0,802.8ZM333.7,791.8 L351.3,791.8 L351.3,794.2 L333.6,794.2ZM344.3,790.7 L348.6,790.7 L348.7,802.8 L344.3,802.8ZM357.4,791.8 L375.0,791.8 L375.1,794.2 L357.4,794.2ZM368.0,790.7 L372.2,790.7 L372.9,802.8 L368.5,802.8ZM381.1,791.8 L398.6,791.8 L398.9,794.2 L381.2,794.2ZM391.6,790.7 L395.9,790.7 L397.1,802.8 L392.8,802.8ZM404.7,791.8 L422.3,791.8 L422.7,794.2 L405.1,794.2ZM415.2,790.7 L419.5,790.7 L421.4,802.8 L417.0,802.8ZM428.4,791.8 L446.0,791.8 L446.5,794.2 L428.9,794.2ZM438.9,790.7 L443.1,790.7 L445.6,802.8 L441.2,802.8ZM452.1,791.8 L469.7,791.8 L470.4,794.2 L452.7,794.2ZM462.5,790.7 L466.8,790.7 L469.9,802.8 L465.5,802.8ZM475.8,791.8 L493.4,791.8 L494.2,794.2 L476.5,794.2ZM486.1,790.7 L490.4,790.7 L494.1,802.8 L489.7,802.8ZM499.5,791.8 L517.1,791.8 L518.0,794.2 L500.3,794.2ZM509.8,790.7 L514.0,790.7 L518.3,802.8 L514.0,802.8ZM523.2,791.8 L540.8,791.8 L541.8,794.2 L524.1,794.2ZM533.4,790.7 L537.7,790.7 L542.6,802.8 L538.2,802.8ZM150.7,776.5 L167.7,776.5 L166.8,778.8 L149.7,778.8ZM161.4,775.5 L165.5,775.5 L161.1,786.8 L156.8,786.8ZM173.6,776.5 L190.7,776.5 L189.9,778.8 L172.8,778.8ZM184.3,775.5 L188.4,775.5 L184.5,786.8 L180.3,786.8ZM196.6,776.5 L213.6,776.5 L212.9,778.8 L195.8,778.8ZM207.1,775.5 L211.3,775.5 L207.9,786.8 L203.7,786.8ZM219.5,776.5 L236.5,776.5 L235.9,778.8 L218.8,778.8ZM230.0,775.5 L234.1,775.5 L231.4,786.8 L227.1,786.8ZM242.4,776.5 L259.4,776.5 L259.0,778.8 L241.9,778.8ZM252.9,775.5 L257.0,775.5 L254.8,786.8 L250.6,786.8ZM265.3,776.5 L282.3,776.5 L282.0,778.8 L264.9,778.8ZM275.8,775.5 L279.9,775.5 L278.3,786.8 L274.0,786.8ZM288.2,776.5 L305.3,776.5 L305.1,778.8 L287.9,778.8ZM298.6,775.5 L302.8,775.5 L301.7,786.8 L297.5,786.8ZM311.2,776.5 L328.2,776.5 L328.1,778.8 L311.0,778.8ZM321.5,775.5 L325.6,775.5 L325.1,786.8 L320.9,786.8ZM334.1,776.5 L351.1,776.5 L351.1,778.8 L334.0,778.8ZM344.4,775.5 L348.5,775.5 L348.6,786.8 L344.3,786.8ZM357.0,776.5 L374.0,776.5 L374.2,778.8 L357.1,778.8ZM367.2,775.5 L371.4,775.5 L372.0,786.8 L367.8,786.8ZM379.9,776.5 L396.9,776.5 L397.2,778.8 L380.1,778.8ZM390.1,775.5 L394.2,775.5 L395.4,786.8 L391.2,786.8ZM402.8,776.5 L419.9,776.5 L420.2,778.8 L403.1,778.8ZM413.0,775.5 L417.1,775.5 L418.9,786.8 L414.6,786.8ZM425.8,776.5 L442.8,776.5 L443.3,778.8 L426.2,778.8ZM435.9,775.5 L440.0,775.5 L442.3,786.8 L438.1,786.8ZM448.7,776.5 L465.7,776.5 L466.3,778.8 L449.2,778.8ZM458.7,775.5 L462.9,775.5 L465.8,786.8 L461.5,786.8ZM471.6,776.5 L488.6,776.5 L489.3,778.8 L472.2,778.8ZM481.6,775.5 L485.7,775.5 L489.2,786.8 L484.9,786.8ZM494.5,776.5 L511.5,776.5 L512.4,778.8 L495.3,778.8ZM504.5,775.5 L508.6,775.5 L512.6,786.8 L508.4,786.8ZM517.4,776.5 L534.5,776.5 L535.4,778.8 L518.3,778.8ZM527.3,775.5 L531.5,775.5 L536.1,786.8 L531.8,786.8Z" fill="#ecdf1e"/>
<ellipse cx="345.5" cy="882" rx="125" ry="58" fill="#ffffff" opacity="0.25"/>
<path d="M290.8,669.6 L320.7,669.6 L320.7,808 Q326,808 337.8,801 Q318,850 306,891 Q294,850 276.8,801 Q288,808 290.8,808 Z" fill="#ff0000"/>
<path d="M376.5,678.5 Q388,715 400,743.5 Q391,738 386.6,738 L386.6,884.5 L367.1,884.5 L367.1,738 Q362,738 351.9,742.4 Q365,715 376.5,678.5 Z" fill="#087a0a"/>
<text x="248" y="756" font-family="'Liberation Serif', 'Times New Roman', serif" font-style="italic" font-size="37" fill="#fff">ω</text>
<text x="409.5" y="756" font-family="'Liberation Serif', 'Times New Roman', serif" font-style="italic" font-size="37" fill="#fff">2ω</text>
<rect x="22" y="627" width="44.5" height="42.6" fill="#fff"/>
<text transform="translate(10,660.6) scale(1.03,1)" font-family="'DejaVu Sans', sans-serif" font-size="43.5" fill="#000">(c)</text>
<path d="M691.8,745.4 L924.4,777.5 L923.9,864.2 L694.6,834.0Z" fill="#121c0e" />
<path d="M924.4,777.5 L1005.6,657.0 L1002.9,741.1 L923.9,864.2Z" fill="#0c1409" />
<path d="M694.6,834.0 L923.9,864.2 L923.9,873.6 L694.9,843.6Z" fill="#8c1a86" />
<path d="M923.9,864.2 L1002.9,741.1 L1002.6,750.2 L923.9,873.6Z" fill="#961c90" />
<path d="M694.9,843.6 L923.9,873.6 L923.6,916.0 L696.3,886.9Z" fill="#e6d600" />
<path d="M923.9,873.6 L1002.6,750.2 L1001.2,791.3 L923.6,916.0Z" fill="#f0e000" />
<path d="M696.3,886.9 L923.6,916.0 L923.3,973.7 L698.2,945.8Z" fill="#595959" />
<path d="M923.6,916.0 L1001.2,791.3 L999.4,847.2 L923.3,973.7Z" fill="#484848" />
<path d="M692.1,755.4 L924.3,787.3 L1005.3,666.5M692.4,765.4 L924.3,797.1 L1005.0,676.0M692.8,775.5 L924.2,806.9 L1004.7,685.5M693.1,785.5 L924.2,816.7 L1004.4,695.0M693.4,795.5 L924.1,826.5 L1004.0,704.5M693.7,805.5 L924.1,836.4 L1003.7,714.1M694.0,815.5 L924.0,846.2 L1003.4,723.6M694.4,825.6 L924.0,856.0 L1003.1,733.1" stroke="#26321f" stroke-width="1.3" fill="none" opacity="0.8"/>
<path d="M795.6,632.0 L1005.6,657.0 L924.4,777.5 L691.8,745.4Z" fill="#4f7233" />
<path d="M786.0,645.0 L917.0,657.0 L921.0,644.0 L963.0,649.0 L963.0,657.0 L958.0,664.0 L977.0,668.0 L978.0,678.0 L968.0,693.0 L939.0,686.0 L898.0,750.0 L888.0,760.0 L841.0,756.0 L841.0,746.0 L887.0,682.0 L775.0,668.0 L775.0,655.0Z" fill="#f4e800" />
<path d="M775.0,660.0 L887.0,675.0 L887.0,682.0 L775.0,668.0Z" fill="#e4d800" />
<path d="M841.0,746.0 L896.0,751.0 L888.0,760.0 L841.0,756.0Z" fill="#e4d800" />
<path d="M896.0,751.0 L939.0,686.0 L946.0,686.0 L898.0,750.0Z" fill="#dccf00" />
<path d="M939.0,683.0 L968.0,688.0 L968.0,693.0 L939.0,686.0Z" fill="#e4d800" />
<path d="M968.0,688.0 L978.0,674.0 L978.0,678.0 L968.0,693.0Z" fill="#dccf00" />
<text x="883.5" y="726.5" text-anchor="middle" font-family="'Liberation Serif', 'Times New Roman', serif" font-size="27" fill="#000">Au</text>
<text transform="translate(819.5,813.5) rotate(6.5)" text-anchor="middle" font-family="'Liberation Serif', 'Times New Roman', serif" font-size="28.5" fill="#fff">MQW</text>
<text transform="translate(808.5,856.5) rotate(5)" text-anchor="middle" font-family="'Liberation Serif', 'Times New Roman', serif" font-size="27.5" fill="#fff">Pt</text>
<text transform="translate(804.5,893) rotate(4)" text-anchor="middle" font-family="'Liberation Serif', 'Times New Roman', serif" font-size="27.5" fill="#000">Au</text>
<text transform="translate(810.5,942) rotate(7.6)" text-anchor="middle" font-family="'Liberation Serif', 'Times New Roman', serif" font-size="27.5" fill="#fff">InP substrate</text>
<defs><marker id="ah" viewBox="0 0 10 10" refX="9" refY="5" markerWidth="5" markerHeight="5" orient="auto"><path d="M0,0 L10,5 L0,10 L3,5 Z" fill="#000"/></marker></defs>
<path d="M719.5,738 V681" stroke="#000" stroke-width="2.4" marker-end="url(#ah)" fill="none"/>
<path d="M719.5,737 L753,741" stroke="#000" stroke-width="2.4" marker-end="url(#ah)" fill="none"/>
<path d="M719.5,737 L751,699" stroke="#000" stroke-width="2.4" marker-end="url(#ah)" fill="none"/>
<text x="719" y="670" text-anchor="middle" font-family="'Liberation Serif', 'Times New Roman', serif" font-style="italic" font-size="26" fill="#000">z</text>
<text x="767" y="697" text-anchor="middle" font-family="'Liberation Serif', 'Times New Roman', serif" font-style="italic" font-size="26" fill="#fff">y</text>
<text x="768" y="746.5" text-anchor="middle" font-family="'Liberation Serif', 'Times New Roman', serif" font-style="italic" font-size="26" fill="#fff">x</text>
<clipPath id="semc"><rect x="694.6" y="975" width="291.9" height="163.4"/></clipPath>
<rect x="694.6" y="975" width="291.9" height="163.4" fill="#6a6a6a"/>
<g clip-path="url(#semc)" fill="#9c9c9c" stroke="#c4c4c4" stroke-width="1.4"><rect x="702.2" y="995.7" width="62.3" height="15" rx="4"/><rect x="743.8" y="980.7" width="11.3" height="85.4" rx="4"/><rect x="704.2" y="997.2" width="58.3" height="12" rx="3" stroke="none"/><rect x="773.5" y="995.7" width="62.3" height="15" rx="4"/><rect x="815.1" y="980.7" width="11.3" height="85.4" rx="4"/><rect x="775.5" y="997.2" width="58.3" height="12" rx="3" stroke="none"/><rect x="844.8" y="995.7" width="62.3" height="15" rx="4"/><rect x="886.4" y="980.7" width="11.3" height="85.4" rx="4"/><rect x="846.8" y="997.2" width="58.3" height="12" rx="3" stroke="none"/><rect x="916.1" y="995.7" width="62.3" height="15" rx="4"/><rect x="957.7" y="980.7" width="11.3" height="85.4" rx="4"/><rect x="918.1" y="997.2" width="58.3" height="12" rx="3" stroke="none"/><rect x="702.2" y="1092.4" width="62.3" height="15" rx="4"/><rect x="743.8" y="1077.4" width="11.3" height="85.4" rx="4"/><rect x="704.2" y="1093.9" width="58.3" height="12" rx="3" stroke="none"/><rect x="773.5" y="1092.4" width="62.3" height="15" rx="4"/><rect x="815.1" y="1077.4" width="11.3" height="85.4" rx="4"/><rect x="775.5" y="1093.9" width="58.3" height="12" rx="3" stroke="none"/><rect x="844.8" y="1092.4" width="62.3" height="15" rx="4"/><rect x="886.4" y="1077.4" width="11.3" height="85.4" rx="4"/><rect x="846.8" y="1093.9" width="58.3" height="12" rx="3" stroke="none"/><rect x="916.1" y="1092.4" width="62.3" height="15" rx="4"/><rect x="957.7" y="1077.4" width="11.3" height="85.4" rx="4"/><rect x="918.1" y="1093.9" width="58.3" height="12" rx="3" stroke="none"/></g>
<path d="M905.9,1076.4 V1020" stroke="#fff" stroke-width="3.8"/>
<path d="M905.9,1000.4 L914,1028 L905.9,1021 L897.8,1028 Z" fill="#fff"/>
<path d="M894.1,1064.6 H955" stroke="#fff" stroke-width="3.8"/>
<path d="M973,1064.6 L944,1072.7 L951,1064.6 L944,1056.5 Z" fill="#fff"/>
<text x="892" y="1006" text-anchor="middle" font-family="'Liberation Serif', 'Times New Roman', serif" font-style="italic" font-size="30" fill="#fff">y</text>
<text x="969" y="1055" text-anchor="middle" font-family="'Liberation Serif', 'Times New Roman', serif" font-style="italic" font-size="30" fill="#fff">x</text>
<rect x="703.1" y="1119.6" width="71.7" height="7.9" fill="#fff"/>
<text x="737.3" y="1105.5" text-anchor="middle" font-family="'Liberation Serif', 'Times New Roman', serif" font-size="32.4" fill="#fff">1 µm</text>
<clipPath id="plotclip"><rect x="1135.3" y="710.5" width="439.4" height="349.3"/></clipPath>
<g clip-path="url(#plotclip)">
<path d="M1135,1061 L1153,1057.5 L1199.5,1055 L1245.8,1053 L1350,1048 L1450,1044 L1535,1040" fill="none" stroke="#e8222e" stroke-width="6" stroke-linejoin="round"/>
<g fill="#f25a60" stroke="#e8222e" stroke-width="1.6"><circle cx="1133.8" cy="1061.2" r="3.2"/><circle cx="1137.1" cy="1060.9" r="3.2"/><circle cx="1140.8" cy="1058.1" r="3.2"/><circle cx="1140.8" cy="1060.9" r="3.2"/><circle cx="1144.5" cy="1057.8" r="3.2"/><circle cx="1150.4" cy="1058.3" r="3.2"/><circle cx="1152.3" cy="1057.8" r="3.2"/><circle cx="1154.1" cy="1055.9" r="3.2"/><circle cx="1156.8" cy="1058.9" r="3.2"/><circle cx="1159.0" cy="1058.2" r="3.2"/><circle cx="1162.3" cy="1055.1" r="3.2"/><circle cx="1165.4" cy="1057.3" r="3.2"/><circle cx="1166.0" cy="1054.7" r="3.2"/><circle cx="1171.2" cy="1056.5" r="3.2"/><circle cx="1173.3" cy="1058.1" r="3.2"/><circle cx="1175.9" cy="1058.2" r="3.2"/><circle cx="1177.2" cy="1057.5" r="3.2"/><circle cx="1180.1" cy="1057.9" r="3.2"/><circle cx="1184.7" cy="1054.1" r="3.2"/><circle cx="1184.1" cy="1054.5" r="3.2"/><circle cx="1190.5" cy="1055.3" r="3.2"/><circle cx="1191.6" cy="1054.6" r="3.2"/><circle cx="1193.8" cy="1054.8" r="3.2"/><circle cx="1195.8" cy="1055.5" r="3.2"/><circle cx="1199.5" cy="1056.8" r="3.2"/><circle cx="1202.6" cy="1056.8" r="3.2"/><circle cx="1206.1" cy="1056.9" r="3.2"/><circle cx="1208.0" cy="1053.2" r="3.2"/><circle cx="1211.5" cy="1056.6" r="3.2"/><circle cx="1214.4" cy="1054.7" r="3.2"/><circle cx="1216.2" cy="1053.0" r="3.2"/><circle cx="1219.4" cy="1054.5" r="3.2"/><circle cx="1219.7" cy="1052.2" r="3.2"/><circle cx="1224.9" cy="1056.1" r="3.2"/><circle cx="1224.2" cy="1055.2" r="3.2"/><circle cx="1228.3" cy="1052.2" r="3.2"/><circle cx="1230.5" cy="1054.8" r="3.2"/><circle cx="1235.7" cy="1051.5" r="3.2"/><circle cx="1237.3" cy="1051.4" r="3.2"/><circle cx="1240.4" cy="1052.5" r="3.2"/><circle cx="1243.8" cy="1055.3" r="3.2"/><circle cx="1244.8" cy="1055.2" r="3.2"/><circle cx="1246.7" cy="1051.1" r="3.2"/><circle cx="1250.6" cy="1050.7" r="3.2"/><circle cx="1251.6" cy="1052.3" r="3.2"/><circle cx="1256.1" cy="1051.0" r="3.2"/><circle cx="1256.2" cy="1054.0" r="3.2"/><circle cx="1260.1" cy="1054.3" r="3.2"/><circle cx="1265.4" cy="1051.6" r="3.2"/><circle cx="1266.1" cy="1052.1" r="3.2"/><circle cx="1269.6" cy="1052.3" r="3.2"/><circle cx="1272.0" cy="1052.3" r="3.2"/><circle cx="1276.3" cy="1051.7" r="3.2"/><circle cx="1276.8" cy="1052.5" r="3.2"/><circle cx="1278.6" cy="1050.5" r="3.2"/><circle cx="1284.5" cy="1051.3" r="3.2"/><circle cx="1285.3" cy="1049.0" r="3.2"/><circle cx="1287.4" cy="1051.3" r="3.2"/><circle cx="1288.4" cy="1051.4" r="3.2"/><circle cx="1293.8" cy="1048.8" r="3.2"/><circle cx="1296.4" cy="1050.4" r="3.2"/><circle cx="1299.3" cy="1049.8" r="3.2"/><circle cx="1302.2" cy="1051.4" r="3.2"/><circle cx="1301.8" cy="1048.3" r="3.2"/><circle cx="1307.4" cy="1052.1" r="3.2"/><circle cx="1308.2" cy="1049.8" r="3.2"/><circle cx="1312.4" cy="1049.0" r="3.2"/><circle cx="1314.1" cy="1048.9" r="3.2"/><circle cx="1316.8" cy="1050.0" r="3.2"/><circle cx="1319.2" cy="1048.9" r="3.2"/><circle cx="1323.9" cy="1047.2" r="3.2"/><circle cx="1325.7" cy="1050.2" r="3.2"/><circle cx="1327.3" cy="1047.8" r="3.2"/><circle cx="1332.1" cy="1047.8" r="3.2"/><circle cx="1332.1" cy="1048.5" r="3.2"/><circle cx="1337.0" cy="1046.9" r="3.2"/><circle cx="1338.1" cy="1047.8" r="3.2"/><circle cx="1343.0" cy="1048.1" r="3.2"/><circle cx="1345.8" cy="1046.8" r="3.2"/><circle cx="1346.2" cy="1048.8" r="3.2"/><circle cx="1351.3" cy="1047.8" r="3.2"/><circle cx="1351.1" cy="1046.2" r="3.2"/><circle cx="1355.1" cy="1046.4" r="3.2"/><circle cx="1359.0" cy="1049.2" r="3.2"/><circle cx="1359.0" cy="1046.6" r="3.2"/><circle cx="1364.4" cy="1048.1" r="3.2"/><circle cx="1367.1" cy="1046.7" r="3.2"/><circle cx="1366.8" cy="1046.3" r="3.2"/><circle cx="1372.4" cy="1046.1" r="3.2"/><circle cx="1373.1" cy="1046.7" r="3.2"/><circle cx="1376.1" cy="1046.5" r="3.2"/><circle cx="1381.0" cy="1045.3" r="3.2"/><circle cx="1379.7" cy="1048.7" r="3.2"/><circle cx="1386.2" cy="1048.8" r="3.2"/><circle cx="1386.9" cy="1048.5" r="3.2"/><circle cx="1391.8" cy="1045.2" r="3.2"/><circle cx="1393.7" cy="1047.8" r="3.2"/><circle cx="1396.0" cy="1046.3" r="3.2"/><circle cx="1397.0" cy="1045.4" r="3.2"/><circle cx="1399.5" cy="1044.1" r="3.2"/><circle cx="1403.7" cy="1044.9" r="3.2"/><circle cx="1407.4" cy="1043.8" r="3.2"/><circle cx="1410.5" cy="1046.5" r="3.2"/><circle cx="1413.3" cy="1047.3" r="3.2"/><circle cx="1415.9" cy="1045.8" r="3.2"/><circle cx="1414.6" cy="1046.4" r="3.2"/><circle cx="1418.0" cy="1044.3" r="3.2"/><circle cx="1422.9" cy="1045.2" r="3.2"/><circle cx="1424.5" cy="1046.9" r="3.2"/><circle cx="1428.0" cy="1044.2" r="3.2"/><circle cx="1429.1" cy="1046.4" r="3.2"/><circle cx="1432.8" cy="1045.9" r="3.2"/><circle cx="1434.9" cy="1043.2" r="3.2"/><circle cx="1438.4" cy="1045.9" r="3.2"/><circle cx="1439.5" cy="1045.6" r="3.2"/><circle cx="1445.5" cy="1045.6" r="3.2"/><circle cx="1447.8" cy="1042.0" r="3.2"/><circle cx="1449.6" cy="1045.6" r="3.2"/><circle cx="1449.7" cy="1042.9" r="3.2"/><circle cx="1453.4" cy="1043.9" r="3.2"/><circle cx="1456.8" cy="1043.5" r="3.2"/><circle cx="1461.0" cy="1041.3" r="3.2"/><circle cx="1460.5" cy="1041.8" r="3.2"/><circle cx="1463.5" cy="1041.4" r="3.2"/><circle cx="1469.9" cy="1044.7" r="3.2"/><circle cx="1468.7" cy="1043.0" r="3.2"/><circle cx="1472.4" cy="1042.1" r="3.2"/><circle cx="1475.2" cy="1043.4" r="3.2"/><circle cx="1479.0" cy="1042.0" r="3.2"/><circle cx="1479.9" cy="1041.8" r="3.2"/><circle cx="1482.3" cy="1042.6" r="3.2"/><circle cx="1487.6" cy="1041.7" r="3.2"/><circle cx="1487.5" cy="1040.7" r="3.2"/><circle cx="1491.5" cy="1042.5" r="3.2"/><circle cx="1495.9" cy="1041.4" r="3.2"/><circle cx="1498.7" cy="1042.3" r="3.2"/><circle cx="1499.8" cy="1041.1" r="3.2"/><circle cx="1502.7" cy="1042.4" r="3.2"/><circle cx="1505.1" cy="1042.2" r="3.2"/><circle cx="1508.0" cy="1040.1" r="3.2"/><circle cx="1511.0" cy="1042.0" r="3.2"/><circle cx="1511.6" cy="1040.7" r="3.2"/><circle cx="1515.9" cy="1042.6" r="3.2"/><circle cx="1520.8" cy="1040.2" r="3.2"/><circle cx="1523.3" cy="1041.9" r="3.2"/><circle cx="1523.2" cy="1040.3" r="3.2"/><circle cx="1525.3" cy="1041.8" r="3.2"/><circle cx="1530.3" cy="1042.0" r="3.2"/><circle cx="1533.6" cy="1040.9" r="3.2"/><circle cx="1536.0" cy="1040.3" r="3.2"/></g>
<path d="M1135,1061 L1153.2,1053 L1176.3,1047 L1199.5,1042.4 L1222.7,1037.7 L1245.8,1033.1 L1350,1019.8 L1450,1005.5 L1541,993.7" fill="none" stroke="#55bb3a" stroke-width="6" stroke-linejoin="round"/>
<g fill="#7ccc66" stroke="#55bb3a" stroke-width="1.6"><circle cx="1133.3" cy="1061.4" r="3.2"/><circle cx="1135.4" cy="1058.3" r="3.2"/><circle cx="1141.3" cy="1056.8" r="3.2"/><circle cx="1140.8" cy="1055.9" r="3.2"/><circle cx="1146.8" cy="1055.1" r="3.2"/><circle cx="1145.6" cy="1056.9" r="3.2"/><circle cx="1148.5" cy="1055.8" r="3.2"/><circle cx="1153.5" cy="1054.7" r="3.2"/><circle cx="1157.4" cy="1052.8" r="3.2"/><circle cx="1159.4" cy="1049.7" r="3.2"/><circle cx="1161.9" cy="1051.1" r="3.2"/><circle cx="1164.4" cy="1048.6" r="3.2"/><circle cx="1167.2" cy="1051.6" r="3.2"/><circle cx="1166.9" cy="1048.2" r="3.2"/><circle cx="1171.7" cy="1049.7" r="3.2"/><circle cx="1173.0" cy="1046.2" r="3.2"/><circle cx="1175.7" cy="1047.4" r="3.2"/><circle cx="1180.7" cy="1045.9" r="3.2"/><circle cx="1181.7" cy="1045.4" r="3.2"/><circle cx="1184.3" cy="1044.9" r="3.2"/><circle cx="1185.9" cy="1044.7" r="3.2"/><circle cx="1192.5" cy="1043.8" r="3.2"/><circle cx="1194.2" cy="1042.2" r="3.2"/><circle cx="1196.7" cy="1044.3" r="3.2"/><circle cx="1199.3" cy="1042.7" r="3.2"/><circle cx="1201.2" cy="1042.7" r="3.2"/><circle cx="1205.7" cy="1039.9" r="3.2"/><circle cx="1204.9" cy="1042.0" r="3.2"/><circle cx="1211.2" cy="1040.5" r="3.2"/><circle cx="1211.9" cy="1040.8" r="3.2"/><circle cx="1213.5" cy="1038.3" r="3.2"/><circle cx="1216.2" cy="1039.1" r="3.2"/><circle cx="1219.4" cy="1037.0" r="3.2"/><circle cx="1223.8" cy="1039.6" r="3.2"/><circle cx="1224.8" cy="1038.0" r="3.2"/><circle cx="1228.0" cy="1038.1" r="3.2"/><circle cx="1231.5" cy="1035.0" r="3.2"/><circle cx="1232.6" cy="1033.4" r="3.2"/><circle cx="1236.5" cy="1034.4" r="3.2"/><circle cx="1237.8" cy="1033.8" r="3.2"/><circle cx="1241.2" cy="1035.1" r="3.2"/><circle cx="1243.1" cy="1035.5" r="3.2"/><circle cx="1247.3" cy="1033.3" r="3.2"/><circle cx="1250.0" cy="1034.0" r="3.2"/><circle cx="1254.3" cy="1032.4" r="3.2"/><circle cx="1255.6" cy="1032.8" r="3.2"/><circle cx="1260.0" cy="1031.1" r="3.2"/><circle cx="1262.2" cy="1033.2" r="3.2"/><circle cx="1263.8" cy="1029.6" r="3.2"/><circle cx="1265.5" cy="1031.4" r="3.2"/><circle cx="1270.2" cy="1032.1" r="3.2"/><circle cx="1273.7" cy="1028.6" r="3.2"/><circle cx="1273.5" cy="1028.3" r="3.2"/><circle cx="1276.3" cy="1029.9" r="3.2"/><circle cx="1282.0" cy="1030.4" r="3.2"/><circle cx="1282.0" cy="1029.9" r="3.2"/><circle cx="1285.0" cy="1027.6" r="3.2"/><circle cx="1289.6" cy="1025.8" r="3.2"/><circle cx="1289.6" cy="1028.8" r="3.2"/><circle cx="1293.2" cy="1026.3" r="3.2"/><circle cx="1297.2" cy="1027.4" r="3.2"/><circle cx="1297.4" cy="1025.5" r="3.2"/><circle cx="1302.1" cy="1025.8" r="3.2"/><circle cx="1303.8" cy="1025.9" r="3.2"/><circle cx="1309.8" cy="1024.7" r="3.2"/><circle cx="1310.8" cy="1023.2" r="3.2"/><circle cx="1312.3" cy="1025.2" r="3.2"/><circle cx="1314.4" cy="1025.8" r="3.2"/><circle cx="1320.6" cy="1022.0" r="3.2"/><circle cx="1323.5" cy="1022.9" r="3.2"/><circle cx="1325.5" cy="1024.2" r="3.2"/><circle cx="1326.2" cy="1023.5" r="3.2"/><circle cx="1330.5" cy="1023.7" r="3.2"/><circle cx="1331.5" cy="1023.1" r="3.2"/><circle cx="1337.3" cy="1022.4" r="3.2"/><circle cx="1338.2" cy="1019.6" r="3.2"/><circle cx="1340.8" cy="1020.3" r="3.2"/><circle cx="1344.5" cy="1021.4" r="3.2"/><circle cx="1346.6" cy="1018.9" r="3.2"/><circle cx="1349.7" cy="1020.5" r="3.2"/><circle cx="1350.3" cy="1021.3" r="3.2"/><circle cx="1355.2" cy="1017.5" r="3.2"/><circle cx="1359.1" cy="1017.2" r="3.2"/><circle cx="1359.2" cy="1019.3" r="3.2"/><circle cx="1363.2" cy="1018.2" r="3.2"/><circle cx="1366.1" cy="1017.4" r="3.2"/><circle cx="1367.4" cy="1015.8" r="3.2"/><circle cx="1369.0" cy="1017.8" r="3.2"/><circle cx="1374.8" cy="1016.6" r="3.2"/><circle cx="1377.5" cy="1015.4" r="3.2"/><circle cx="1378.1" cy="1015.1" r="3.2"/><circle cx="1383.5" cy="1013.2" r="3.2"/><circle cx="1384.7" cy="1013.7" r="3.2"/><circle cx="1388.6" cy="1013.8" r="3.2"/><circle cx="1389.4" cy="1013.6" r="3.2"/><circle cx="1393.0" cy="1014.9" r="3.2"/><circle cx="1395.0" cy="1014.8" r="3.2"/><circle cx="1396.6" cy="1011.9" r="3.2"/><circle cx="1399.3" cy="1010.8" r="3.2"/><circle cx="1405.1" cy="1013.1" r="3.2"/><circle cx="1405.2" cy="1010.3" r="3.2"/><circle cx="1408.9" cy="1012.4" r="3.2"/><circle cx="1413.4" cy="1012.0" r="3.2"/><circle cx="1415.2" cy="1009.0" r="3.2"/><circle cx="1417.1" cy="1008.8" r="3.2"/><circle cx="1420.4" cy="1010.1" r="3.2"/><circle cx="1421.7" cy="1008.3" r="3.2"/><circle cx="1427.0" cy="1006.9" r="3.2"/><circle cx="1429.8" cy="1010.3" r="3.2"/><circle cx="1433.2" cy="1007.7" r="3.2"/><circle cx="1434.2" cy="1008.2" r="3.2"/><circle cx="1437.3" cy="1009.5" r="3.2"/><circle cx="1440.3" cy="1006.1" r="3.2"/><circle cx="1443.8" cy="1006.5" r="3.2"/><circle cx="1445.4" cy="1007.2" r="3.2"/><circle cx="1445.5" cy="1007.0" r="3.2"/><circle cx="1451.1" cy="1005.4" r="3.2"/><circle cx="1453.3" cy="1004.9" r="3.2"/><circle cx="1454.6" cy="1004.9" r="3.2"/><circle cx="1456.6" cy="1004.4" r="3.2"/><circle cx="1462.0" cy="1003.8" r="3.2"/><circle cx="1464.4" cy="1005.7" r="3.2"/><circle cx="1468.6" cy="1001.7" r="3.2"/><circle cx="1470.9" cy="1003.5" r="3.2"/><circle cx="1470.4" cy="1002.0" r="3.2"/><circle cx="1473.9" cy="1000.4" r="3.2"/><circle cx="1478.0" cy="1003.8" r="3.2"/><circle cx="1479.8" cy="1003.2" r="3.2"/><circle cx="1484.2" cy="999.6" r="3.2"/><circle cx="1487.7" cy="1001.3" r="3.2"/><circle cx="1490.7" cy="1001.4" r="3.2"/><circle cx="1492.6" cy="999.4" r="3.2"/><circle cx="1495.7" cy="1001.7" r="3.2"/><circle cx="1498.7" cy="999.1" r="3.2"/><circle cx="1501.0" cy="999.0" r="3.2"/><circle cx="1500.8" cy="996.7" r="3.2"/><circle cx="1503.5" cy="997.0" r="3.2"/><circle cx="1506.6" cy="998.0" r="3.2"/><circle cx="1511.7" cy="997.8" r="3.2"/><circle cx="1513.2" cy="997.9" r="3.2"/><circle cx="1515.4" cy="996.7" r="3.2"/><circle cx="1520.2" cy="996.1" r="3.2"/><circle cx="1520.4" cy="997.9" r="3.2"/><circle cx="1525.5" cy="995.3" r="3.2"/><circle cx="1526.7" cy="995.6" r="3.2"/><circle cx="1530.4" cy="993.9" r="3.2"/><circle cx="1530.6" cy="993.5" r="3.2"/><circle cx="1536.8" cy="992.8" r="3.2"/><circle cx="1538.1" cy="992.7" r="3.2"/><circle cx="1539.7" cy="992.3" r="3.2"/></g>
<path d="M1135,1061 L1153.2,1041 L1176.3,1029.6 L1199.5,1018 L1222.7,1008.8 L1245.8,1001.8 L1300,978 L1350,963.5 L1419,938 L1499,914.5 L1541,906" fill="none" stroke="#9a9a9a" stroke-width="6" stroke-linejoin="round"/>
<g fill="#b8b8b8" stroke="#9a9a9a" stroke-width="1.6"><circle cx="1134.6" cy="1059.5" r="3.2"/><circle cx="1134.9" cy="1057.1" r="3.2"/><circle cx="1137.5" cy="1056.6" r="3.2"/><circle cx="1139.0" cy="1052.4" r="3.2"/><circle cx="1142.7" cy="1051.9" r="3.2"/><circle cx="1145.8" cy="1048.1" r="3.2"/><circle cx="1146.5" cy="1047.5" r="3.2"/><circle cx="1146.8" cy="1047.8" r="3.2"/><circle cx="1149.6" cy="1041.8" r="3.2"/><circle cx="1152.7" cy="1039.9" r="3.2"/><circle cx="1155.9" cy="1039.3" r="3.2"/><circle cx="1156.4" cy="1036.7" r="3.2"/><circle cx="1161.6" cy="1036.3" r="3.2"/><circle cx="1164.6" cy="1035.9" r="3.2"/><circle cx="1167.8" cy="1033.8" r="3.2"/><circle cx="1167.5" cy="1032.4" r="3.2"/><circle cx="1172.6" cy="1032.7" r="3.2"/><circle cx="1173.2" cy="1029.0" r="3.2"/><circle cx="1177.3" cy="1031.6" r="3.2"/><circle cx="1179.5" cy="1026.0" r="3.2"/><circle cx="1179.7" cy="1025.1" r="3.2"/><circle cx="1182.9" cy="1023.5" r="3.2"/><circle cx="1185.1" cy="1024.9" r="3.2"/><circle cx="1191.4" cy="1021.6" r="3.2"/><circle cx="1194.4" cy="1021.5" r="3.2"/><circle cx="1196.3" cy="1022.1" r="3.2"/><circle cx="1199.5" cy="1016.9" r="3.2"/><circle cx="1199.4" cy="1018.2" r="3.2"/><circle cx="1204.9" cy="1014.8" r="3.2"/><circle cx="1204.8" cy="1017.1" r="3.2"/><circle cx="1206.8" cy="1014.0" r="3.2"/><circle cx="1210.5" cy="1014.2" r="3.2"/><circle cx="1215.8" cy="1010.8" r="3.2"/><circle cx="1217.7" cy="1012.2" r="3.2"/><circle cx="1220.9" cy="1010.3" r="3.2"/><circle cx="1224.0" cy="1008.4" r="3.2"/><circle cx="1224.6" cy="1006.9" r="3.2"/><circle cx="1229.0" cy="1007.2" r="3.2"/><circle cx="1229.6" cy="1005.0" r="3.2"/><circle cx="1234.4" cy="1006.0" r="3.2"/><circle cx="1237.1" cy="1004.2" r="3.2"/><circle cx="1239.0" cy="1002.3" r="3.2"/><circle cx="1242.8" cy="1000.9" r="3.2"/><circle cx="1244.5" cy="1003.3" r="3.2"/><circle cx="1248.2" cy="999.3" r="3.2"/><circle cx="1249.0" cy="1001.4" r="3.2"/><circle cx="1253.4" cy="1000.4" r="3.2"/><circle cx="1257.1" cy="997.3" r="3.2"/><circle cx="1260.0" cy="997.4" r="3.2"/><circle cx="1260.2" cy="994.6" r="3.2"/><circle cx="1261.7" cy="993.5" r="3.2"/><circle cx="1268.3" cy="991.1" r="3.2"/><circle cx="1269.3" cy="989.9" r="3.2"/><circle cx="1269.8" cy="991.1" r="3.2"/><circle cx="1273.2" cy="987.3" r="3.2"/><circle cx="1275.6" cy="988.7" r="3.2"/><circle cx="1280.2" cy="984.7" r="3.2"/><circle cx="1281.3" cy="987.7" r="3.2"/><circle cx="1283.9" cy="984.8" r="3.2"/><circle cx="1287.5" cy="984.6" r="3.2"/><circle cx="1291.0" cy="983.4" r="3.2"/><circle cx="1293.4" cy="979.6" r="3.2"/><circle cx="1294.5" cy="977.9" r="3.2"/><circle cx="1300.1" cy="976.9" r="3.2"/><circle cx="1299.3" cy="979.6" r="3.2"/><circle cx="1302.9" cy="978.5" r="3.2"/><circle cx="1305.3" cy="975.8" r="3.2"/><circle cx="1308.7" cy="976.6" r="3.2"/><circle cx="1313.2" cy="974.9" r="3.2"/><circle cx="1316.7" cy="975.1" r="3.2"/><circle cx="1317.7" cy="973.1" r="3.2"/><circle cx="1321.0" cy="970.1" r="3.2"/><circle cx="1325.5" cy="971.4" r="3.2"/><circle cx="1328.3" cy="968.9" r="3.2"/><circle cx="1329.9" cy="969.2" r="3.2"/><circle cx="1333.5" cy="966.7" r="3.2"/><circle cx="1334.7" cy="967.7" r="3.2"/><circle cx="1336.3" cy="967.2" r="3.2"/><circle cx="1342.1" cy="965.8" r="3.2"/><circle cx="1344.5" cy="965.7" r="3.2"/><circle cx="1345.4" cy="963.8" r="3.2"/><circle cx="1351.7" cy="962.9" r="3.2"/><circle cx="1352.0" cy="960.8" r="3.2"/><circle cx="1353.8" cy="960.2" r="3.2"/><circle cx="1359.7" cy="961.6" r="3.2"/><circle cx="1362.2" cy="961.7" r="3.2"/><circle cx="1363.8" cy="960.5" r="3.2"/><circle cx="1366.3" cy="957.2" r="3.2"/><circle cx="1370.8" cy="958.3" r="3.2"/><circle cx="1373.6" cy="955.4" r="3.2"/><circle cx="1375.6" cy="954.1" r="3.2"/><circle cx="1379.3" cy="955.3" r="3.2"/><circle cx="1379.0" cy="954.4" r="3.2"/><circle cx="1381.3" cy="949.6" r="3.2"/><circle cx="1386.4" cy="949.5" r="3.2"/><circle cx="1388.3" cy="950.0" r="3.2"/><circle cx="1389.0" cy="949.4" r="3.2"/><circle cx="1392.7" cy="947.0" r="3.2"/><circle cx="1395.8" cy="947.4" r="3.2"/><circle cx="1400.3" cy="944.4" r="3.2"/><circle cx="1400.3" cy="943.4" r="3.2"/><circle cx="1404.4" cy="941.4" r="3.2"/><circle cx="1406.0" cy="943.4" r="3.2"/><circle cx="1411.2" cy="943.3" r="3.2"/><circle cx="1415.2" cy="941.8" r="3.2"/><circle cx="1415.3" cy="937.7" r="3.2"/><circle cx="1417.8" cy="938.0" r="3.2"/><circle cx="1421.5" cy="937.5" r="3.2"/><circle cx="1423.6" cy="938.0" r="3.2"/><circle cx="1426.1" cy="935.5" r="3.2"/><circle cx="1431.6" cy="936.2" r="3.2"/><circle cx="1431.8" cy="932.8" r="3.2"/><circle cx="1436.9" cy="931.0" r="3.2"/><circle cx="1436.8" cy="932.4" r="3.2"/><circle cx="1441.4" cy="930.0" r="3.2"/><circle cx="1442.0" cy="929.3" r="3.2"/><circle cx="1448.0" cy="929.7" r="3.2"/><circle cx="1451.8" cy="930.2" r="3.2"/><circle cx="1454.6" cy="926.1" r="3.2"/><circle cx="1453.9" cy="925.2" r="3.2"/><circle cx="1457.9" cy="925.8" r="3.2"/><circle cx="1459.0" cy="925.9" r="3.2"/><circle cx="1462.0" cy="924.0" r="3.2"/><circle cx="1465.5" cy="925.3" r="3.2"/><circle cx="1469.1" cy="922.1" r="3.2"/><circle cx="1470.3" cy="922.0" r="3.2"/><circle cx="1475.7" cy="922.3" r="3.2"/><circle cx="1479.8" cy="922.0" r="3.2"/><circle cx="1479.7" cy="918.3" r="3.2"/><circle cx="1484.7" cy="920.3" r="3.2"/><circle cx="1486.5" cy="919.7" r="3.2"/><circle cx="1489.5" cy="916.4" r="3.2"/><circle cx="1490.6" cy="914.4" r="3.2"/><circle cx="1495.5" cy="917.5" r="3.2"/><circle cx="1499.5" cy="914.7" r="3.2"/><circle cx="1501.3" cy="916.1" r="3.2"/><circle cx="1504.9" cy="914.0" r="3.2"/><circle cx="1506.0" cy="913.1" r="3.2"/><circle cx="1507.8" cy="911.0" r="3.2"/><circle cx="1512.9" cy="914.0" r="3.2"/><circle cx="1515.2" cy="910.9" r="3.2"/><circle cx="1517.3" cy="910.5" r="3.2"/><circle cx="1522.1" cy="909.9" r="3.2"/><circle cx="1525.7" cy="908.0" r="3.2"/><circle cx="1525.8" cy="909.0" r="3.2"/><circle cx="1529.1" cy="909.9" r="3.2"/><circle cx="1533.8" cy="909.7" r="3.2"/><circle cx="1535.7" cy="905.1" r="3.2"/><circle cx="1538.4" cy="906.8" r="3.2"/><circle cx="1540.9" cy="905.0" r="3.2"/></g>
<path d="M1135,1061 L1144,1046 L1153.2,1030 L1164.8,1012 L1176,995.5 L1186,983 L1199.5,970 L1216.9,954 L1234.3,942.7 L1245.8,934.6 L1286.3,902 L1332.6,866.5 L1379,837.1 L1425.3,806.2 L1460,786.2 L1500,759 L1534,737" fill="none" stroke="#2f52b4" stroke-width="6" stroke-linejoin="round"/>
<g fill="#5a78c8" stroke="#2f52b4" stroke-width="1.6"><circle cx="1135.9" cy="1062.8" r="3.2"/><circle cx="1134.7" cy="1059.4" r="3.2"/><circle cx="1137.3" cy="1056.3" r="3.2"/><circle cx="1141.0" cy="1055.9" r="3.2"/><circle cx="1141.3" cy="1050.2" r="3.2"/><circle cx="1143.9" cy="1047.8" r="3.2"/><circle cx="1143.0" cy="1048.3" r="3.2"/><circle cx="1144.1" cy="1043.4" r="3.2"/><circle cx="1148.2" cy="1044.0" r="3.2"/><circle cx="1146.8" cy="1039.2" r="3.2"/><circle cx="1148.0" cy="1035.7" r="3.2"/><circle cx="1149.3" cy="1037.0" r="3.2"/><circle cx="1149.9" cy="1031.3" r="3.2"/><circle cx="1151.8" cy="1028.3" r="3.2"/><circle cx="1154.7" cy="1028.9" r="3.2"/><circle cx="1157.6" cy="1026.1" r="3.2"/><circle cx="1159.0" cy="1021.0" r="3.2"/><circle cx="1158.1" cy="1022.9" r="3.2"/><circle cx="1158.7" cy="1017.5" r="3.2"/><circle cx="1162.0" cy="1015.2" r="3.2"/><circle cx="1163.8" cy="1011.9" r="3.2"/><circle cx="1163.9" cy="1013.6" r="3.2"/><circle cx="1165.0" cy="1011.1" r="3.2"/><circle cx="1166.7" cy="1009.2" r="3.2"/><circle cx="1170.5" cy="1005.4" r="3.2"/><circle cx="1169.7" cy="1000.6" r="3.2"/><circle cx="1173.9" cy="998.8" r="3.2"/><circle cx="1173.0" cy="999.4" r="3.2"/><circle cx="1177.5" cy="993.7" r="3.2"/><circle cx="1179.6" cy="993.7" r="3.2"/><circle cx="1178.8" cy="989.6" r="3.2"/><circle cx="1180.5" cy="991.4" r="3.2"/><circle cx="1181.8" cy="985.4" r="3.2"/><circle cx="1182.9" cy="983.3" r="3.2"/><circle cx="1185.6" cy="984.6" r="3.2"/><circle cx="1186.3" cy="979.5" r="3.2"/><circle cx="1192.1" cy="981.2" r="3.2"/><circle cx="1194.3" cy="975.9" r="3.2"/><circle cx="1193.5" cy="977.1" r="3.2"/><circle cx="1196.1" cy="974.1" r="3.2"/><circle cx="1197.3" cy="969.2" r="3.2"/><circle cx="1199.4" cy="970.5" r="3.2"/><circle cx="1203.4" cy="967.9" r="3.2"/><circle cx="1204.0" cy="965.9" r="3.2"/><circle cx="1205.9" cy="964.0" r="3.2"/><circle cx="1209.7" cy="960.7" r="3.2"/><circle cx="1210.7" cy="962.0" r="3.2"/><circle cx="1213.8" cy="956.8" r="3.2"/><circle cx="1216.3" cy="957.9" r="3.2"/><circle cx="1214.9" cy="953.5" r="3.2"/><circle cx="1217.2" cy="951.0" r="3.2"/><circle cx="1223.0" cy="951.0" r="3.2"/><circle cx="1224.8" cy="948.2" r="3.2"/><circle cx="1223.3" cy="950.1" r="3.2"/><circle cx="1229.1" cy="949.1" r="3.2"/><circle cx="1230.9" cy="945.5" r="3.2"/><circle cx="1233.6" cy="942.1" r="3.2"/><circle cx="1234.9" cy="942.2" r="3.2"/><circle cx="1235.4" cy="941.3" r="3.2"/><circle cx="1238.4" cy="939.3" r="3.2"/><circle cx="1240.9" cy="936.9" r="3.2"/><circle cx="1243.1" cy="936.5" r="3.2"/><circle cx="1248.1" cy="936.4" r="3.2"/><circle cx="1249.7" cy="934.2" r="3.2"/><circle cx="1249.3" cy="933.1" r="3.2"/><circle cx="1251.4" cy="927.6" r="3.2"/><circle cx="1254.5" cy="928.6" r="3.2"/><circle cx="1256.0" cy="926.5" r="3.2"/><circle cx="1257.9" cy="926.2" r="3.2"/><circle cx="1260.8" cy="922.3" r="3.2"/><circle cx="1263.2" cy="922.3" r="3.2"/><circle cx="1267.4" cy="919.1" r="3.2"/><circle cx="1267.1" cy="917.7" r="3.2"/><circle cx="1267.6" cy="915.2" r="3.2"/><circle cx="1273.2" cy="915.0" r="3.2"/><circle cx="1271.9" cy="913.6" r="3.2"/><circle cx="1275.5" cy="912.4" r="3.2"/><circle cx="1277.5" cy="907.3" r="3.2"/><circle cx="1280.5" cy="908.5" r="3.2"/><circle cx="1282.1" cy="906.7" r="3.2"/><circle cx="1285.5" cy="902.8" r="3.2"/><circle cx="1285.8" cy="901.7" r="3.2"/><circle cx="1288.4" cy="899.5" r="3.2"/><circle cx="1291.7" cy="900.0" r="3.2"/><circle cx="1293.6" cy="895.1" r="3.2"/><circle cx="1294.2" cy="894.4" r="3.2"/><circle cx="1298.1" cy="891.7" r="3.2"/><circle cx="1298.0" cy="890.8" r="3.2"/><circle cx="1301.0" cy="887.9" r="3.2"/><circle cx="1304.4" cy="890.1" r="3.2"/><circle cx="1306.5" cy="887.7" r="3.2"/><circle cx="1310.0" cy="886.4" r="3.2"/><circle cx="1312.6" cy="883.0" r="3.2"/><circle cx="1313.7" cy="879.9" r="3.2"/><circle cx="1316.8" cy="879.4" r="3.2"/><circle cx="1317.2" cy="880.0" r="3.2"/><circle cx="1318.5" cy="875.2" r="3.2"/><circle cx="1323.1" cy="875.3" r="3.2"/><circle cx="1322.0" cy="871.1" r="3.2"/><circle cx="1325.4" cy="869.4" r="3.2"/><circle cx="1329.7" cy="868.5" r="3.2"/><circle cx="1329.4" cy="867.7" r="3.2"/><circle cx="1332.6" cy="866.2" r="3.2"/><circle cx="1335.5" cy="865.7" r="3.2"/><circle cx="1337.0" cy="861.8" r="3.2"/><circle cx="1341.7" cy="862.9" r="3.2"/><circle cx="1340.1" cy="860.4" r="3.2"/><circle cx="1345.3" cy="861.3" r="3.2"/><circle cx="1344.6" cy="855.5" r="3.2"/><circle cx="1348.8" cy="855.8" r="3.2"/><circle cx="1352.9" cy="856.2" r="3.2"/><circle cx="1352.8" cy="852.9" r="3.2"/><circle cx="1356.2" cy="853.5" r="3.2"/><circle cx="1356.9" cy="849.8" r="3.2"/><circle cx="1358.7" cy="849.4" r="3.2"/><circle cx="1360.7" cy="849.3" r="3.2"/><circle cx="1365.3" cy="846.2" r="3.2"/><circle cx="1365.6" cy="843.2" r="3.2"/><circle cx="1369.7" cy="844.5" r="3.2"/><circle cx="1372.3" cy="840.5" r="3.2"/><circle cx="1376.6" cy="840.7" r="3.2"/><circle cx="1376.9" cy="837.2" r="3.2"/><circle cx="1378.2" cy="838.8" r="3.2"/><circle cx="1379.8" cy="835.6" r="3.2"/><circle cx="1384.2" cy="833.3" r="3.2"/><circle cx="1387.2" cy="834.3" r="3.2"/><circle cx="1389.8" cy="832.0" r="3.2"/><circle cx="1389.2" cy="827.5" r="3.2"/><circle cx="1392.5" cy="827.0" r="3.2"/><circle cx="1393.8" cy="828.0" r="3.2"/><circle cx="1396.2" cy="826.2" r="3.2"/><circle cx="1401.6" cy="821.6" r="3.2"/><circle cx="1403.8" cy="821.3" r="3.2"/><circle cx="1403.0" cy="818.8" r="3.2"/><circle cx="1404.5" cy="818.7" r="3.2"/><circle cx="1408.4" cy="818.7" r="3.2"/><circle cx="1412.6" cy="813.7" r="3.2"/><circle cx="1413.0" cy="813.6" r="3.2"/><circle cx="1414.3" cy="811.5" r="3.2"/><circle cx="1417.0" cy="811.9" r="3.2"/><circle cx="1419.6" cy="807.8" r="3.2"/><circle cx="1421.4" cy="807.7" r="3.2"/><circle cx="1425.2" cy="805.3" r="3.2"/><circle cx="1428.1" cy="803.8" r="3.2"/><circle cx="1430.4" cy="804.2" r="3.2"/><circle cx="1430.6" cy="803.4" r="3.2"/><circle cx="1434.0" cy="801.1" r="3.2"/><circle cx="1437.2" cy="800.1" r="3.2"/><circle cx="1438.9" cy="796.2" r="3.2"/><circle cx="1442.8" cy="798.4" r="3.2"/><circle cx="1443.9" cy="795.8" r="3.2"/><circle cx="1445.3" cy="795.8" r="3.2"/><circle cx="1449.6" cy="791.5" r="3.2"/><circle cx="1452.5" cy="793.5" r="3.2"/><circle cx="1452.8" cy="792.1" r="3.2"/><circle cx="1455.8" cy="787.2" r="3.2"/><circle cx="1459.2" cy="786.5" r="3.2"/><circle cx="1461.7" cy="786.1" r="3.2"/><circle cx="1461.2" cy="784.3" r="3.2"/><circle cx="1466.7" cy="782.6" r="3.2"/><circle cx="1467.6" cy="782.7" r="3.2"/><circle cx="1469.5" cy="779.5" r="3.2"/><circle cx="1472.4" cy="779.5" r="3.2"/><circle cx="1473.0" cy="774.7" r="3.2"/><circle cx="1477.7" cy="775.2" r="3.2"/><circle cx="1478.0" cy="775.1" r="3.2"/><circle cx="1482.8" cy="772.0" r="3.2"/><circle cx="1485.5" cy="771.8" r="3.2"/><circle cx="1486.8" cy="767.8" r="3.2"/><circle cx="1485.8" cy="768.0" r="3.2"/><circle cx="1491.3" cy="765.0" r="3.2"/><circle cx="1492.4" cy="764.4" r="3.2"/><circle cx="1493.7" cy="763.4" r="3.2"/><circle cx="1497.3" cy="760.5" r="3.2"/><circle cx="1497.6" cy="759.7" r="3.2"/><circle cx="1500.8" cy="758.9" r="3.2"/><circle cx="1502.5" cy="756.0" r="3.2"/><circle cx="1504.9" cy="754.5" r="3.2"/><circle cx="1508.9" cy="751.7" r="3.2"/><circle cx="1508.9" cy="751.9" r="3.2"/><circle cx="1511.9" cy="750.5" r="3.2"/><circle cx="1514.0" cy="747.2" r="3.2"/><circle cx="1518.0" cy="749.3" r="3.2"/><circle cx="1521.8" cy="746.0" r="3.2"/><circle cx="1522.0" cy="742.6" r="3.2"/><circle cx="1523.8" cy="742.2" r="3.2"/><circle cx="1529.0" cy="739.8" r="3.2"/><circle cx="1531.3" cy="739.9" r="3.2"/><circle cx="1531.4" cy="737.4" r="3.2"/><circle cx="1536.0" cy="735.6" r="3.2"/></g>
<path d="M1136,1058 L1153,1030 L1165,1012 L1176,995.5 L1190,979" fill="none" stroke="#2f52b4" stroke-width="9" stroke-linecap="round"/>
<path d="M1134.7,1059.4 L1254.5,860.4" stroke="#141d6e" stroke-width="2.2"/>
<path d="M1215,949.2 L1550.7,723" stroke="#141d6e" stroke-width="2.2"/>
<path d="M1135,1061 L1270.6,964.2" stroke="#111" stroke-width="2"/>
<path d="M1215.8,1006.6 L1553.9,899.2" stroke="#111" stroke-width="2"/>
<path d="M1193.2,1042.5 L1548.7,989.7" stroke="#17753a" stroke-width="2.2"/>
<path d="M1135,1061 L1548.7,1036.5" stroke="#4a0c0c" stroke-width="2"/>
</g>
<rect x="1135.3" y="710.5" width="439.4" height="350.3" fill="none" stroke="#3a3a3a" stroke-width="2.1"/>
<path d="M1135.3,1060.8h-8M1135.3,1038.9h-4M1135.3,1017.0h-4M1135.3,995.1h-4M1135.3,973.2h-8M1135.3,951.3h-4M1135.3,929.4h-4M1135.3,907.5h-4M1135.3,885.6h-8M1135.3,863.8h-4M1135.3,841.9h-4M1135.3,820.0h-4M1135.3,798.1h-8M1135.3,776.2h-4M1135.3,754.3h-4M1135.3,732.4h-4M1135.3,710.5h-8M1135.3,1060.8v7M1171.9,1060.8v4M1208.5,1060.8v4M1245.2,1060.8v4M1281.8,1060.8v7M1318.4,1060.8v4M1355.0,1060.8v4M1391.6,1060.8v4M1428.2,1060.8v7M1464.9,1060.8v4M1501.5,1060.8v4M1538.1,1060.8v4M1574.7,1060.8v7M1135.4,710.5v7.3M1178.7,710.5v4.3M1222.1,710.5v7.3M1265.4,710.5v4.3M1308.7,710.5v7.3M1352.0,710.5v4.3M1395.4,710.5v7.3M1438.7,710.5v4.3M1482.0,710.5v7.3M1525.3,710.5v4.3M1568.7,710.5v7.3M1574.7,1060.8h-7.4M1574.7,1007.6h-4M1574.7,954.5h-7.4M1574.7,901.3h-4M1574.7,848.1h-7.4M1574.7,795.0h-4M1574.7,741.8h-7.4" stroke="#3a3a3a" stroke-width="1.8" fill="none"/>
<text transform="translate(1118.9,1068.3) scale(1,1.08)" text-anchor="end" font-family="'Liberation Serif', 'Times New Roman', serif" font-size="26.5" fill="#000">0.00</text>
<text transform="translate(1118.9,980.7) scale(1,1.08)" text-anchor="end" font-family="'Liberation Serif', 'Times New Roman', serif" font-size="26.5" fill="#000">0.04</text>
<text transform="translate(1118.9,893.1) scale(1,1.08)" text-anchor="end" font-family="'Liberation Serif', 'Times New Roman', serif" font-size="26.5" fill="#000">0.08</text>
<text transform="translate(1118.9,805.6) scale(1,1.08)" text-anchor="end" font-family="'Liberation Serif', 'Times New Roman', serif" font-size="26.5" fill="#000">0.12</text>
<text transform="translate(1118.9,718.0) scale(1,1.08)" text-anchor="end" font-family="'Liberation Serif', 'Times New Roman', serif" font-size="26.5" fill="#000">0.16</text>
<text transform="translate(1584.3,1068.3) scale(1,1.08)" font-family="'Liberation Serif', 'Times New Roman', serif" font-size="26.5" fill="#000">0.00</text>
<text transform="translate(1584.3,962.0) scale(1,1.08)" font-family="'Liberation Serif', 'Times New Roman', serif" font-size="26.5" fill="#000">0.02</text>
<text transform="translate(1584.3,855.6) scale(1,1.08)" font-family="'Liberation Serif', 'Times New Roman', serif" font-size="26.5" fill="#000">0.04</text>
<text transform="translate(1584.3,749.3) scale(1,1.08)" font-family="'Liberation Serif', 'Times New Roman', serif" font-size="26.5" fill="#000">0.06</text>
<text transform="translate(1137.4,698.6) scale(1,1.08)" text-anchor="middle" font-family="'Liberation Serif', 'Times New Roman', serif" font-size="26.5" fill="#000">0</text>
<text transform="translate(1224.1,698.6) scale(1,1.08)" text-anchor="middle" font-family="'Liberation Serif', 'Times New Roman', serif" font-size="26.5" fill="#000">50</text>
<text transform="translate(1310.7,698.6) scale(1,1.08)" text-anchor="middle" font-family="'Liberation Serif', 'Times New Roman', serif" font-size="26.5" fill="#000">100</text>
<text transform="translate(1397.4,698.6) scale(1,1.08)" text-anchor="middle" font-family="'Liberation Serif', 'Times New Roman', serif" font-size="26.5" fill="#000">150</text>
<text transform="translate(1484.0,698.6) scale(1,1.08)" text-anchor="middle" font-family="'Liberation Serif', 'Times New Roman', serif" font-size="26.5" fill="#000">200</text>
<text transform="translate(1570.7,698.6) scale(1,1.08)" text-anchor="middle" font-family="'Liberation Serif', 'Times New Roman', serif" font-size="26.5" fill="#000">250</text>
<text transform="translate(1134.7,1095.5) scale(1,1.08)" text-anchor="middle" font-family="'Liberation Serif', 'Times New Roman', serif" font-size="26.5" fill="#000">0.0</text>
<text transform="translate(1231.5,1095.5) scale(1,1.08)" font-family="'Liberation Serif', 'Times New Roman', serif" font-size="26.5" fill="#000">2.0 × 10<tspan dy="-11" font-size="19">−3</tspan></text>
<text transform="translate(1375.1,1095.5) scale(1,1.08)" font-family="'Liberation Serif', 'Times New Roman', serif" font-size="26.5" fill="#000">4.0 × 10<tspan dy="-11" font-size="19">−3</tspan></text>
<text transform="translate(1518.8,1095.5) scale(1,1.08)" font-family="'Liberation Serif', 'Times New Roman', serif" font-size="26.5" fill="#000">6.0 × 10<tspan dy="-11" font-size="19">−3</tspan></text>
<text x="1353.2" y="660" text-anchor="middle" font-family="'Liberation Serif', 'Times New Roman', serif" font-size="32.8" fill="#000">FF intensity squared (kW<tspan dy="-12" font-size="22">2</tspan><tspan dy="12"> cm</tspan><tspan dy="-12" font-size="22">−4</tspan><tspan dy="12">)</tspan></text>
<text x="1360" y="1135.4" text-anchor="middle" font-family="'Liberation Serif', 'Times New Roman', serif" font-size="32.8" fill="#000">FF power squared (W<tspan dy="-12" font-size="22">2</tspan><tspan dy="12">)</tspan></text>
<text transform="translate(1052,882.5) rotate(-90)" text-anchor="middle" font-family="'Liberation Serif', 'Times New Roman', serif" font-size="32.6" fill="#000">SH power (µW)</text>
<text transform="translate(1647,885) rotate(90)" text-anchor="middle" font-family="'Liberation Serif', 'Times New Roman', serif" font-size="33.2" fill="#000">SH intensity (W cm<tspan dy="-13" font-size="24">−2</tspan><tspan dy="13">)</tspan></text>
<defs><radialGradient id="lb" cx="0.35" cy="0.3" r="0.7"><stop offset="0" stop-color="#c0c8f0"/><stop offset="0.35" stop-color="#2c48b0"/><stop offset="1" stop-color="#1a3090"/></radialGradient><radialGradient id="lg" cx="0.35" cy="0.3" r="0.7"><stop offset="0" stop-color="#f0f0f0"/><stop offset="0.35" stop-color="#9a9ca2"/><stop offset="1" stop-color="#80848a"/></radialGradient><radialGradient id="lgr" cx="0.35" cy="0.3" r="0.7"><stop offset="0" stop-color="#d8f0d0"/><stop offset="0.35" stop-color="#4ab838"/><stop offset="1" stop-color="#2e9a22"/></radialGradient><radialGradient id="lr" cx="0.35" cy="0.3" r="0.7"><stop offset="0" stop-color="#ffd0d0"/><stop offset="0.35" stop-color="#ee1420"/><stop offset="1" stop-color="#c80010"/></radialGradient></defs>
<circle cx="1155.3" cy="731.4" r="5.4" fill="url(#lb)"/>
<text x="1165" y="737.6" font-family="'Liberation Sans', Arial, sans-serif" font-style="italic" font-size="25.5" fill="#222">yyy</text>
<circle cx="1266.8" cy="730.2" r="5.4" fill="url(#lg)"/>
<text x="1276" y="737.6" font-family="'Liberation Sans', Arial, sans-serif" font-style="italic" font-size="25.5" fill="#222">xxx</text>
<circle cx="1155.3" cy="766.3" r="5.4" fill="url(#lgr)"/>
<text x="1165" y="772.1" font-family="'Liberation Sans', Arial, sans-serif" font-style="italic" font-size="25.5" fill="#222">yxx</text>
<circle cx="1267.8" cy="765.1" r="5.4" fill="url(#lr)"/>
<text x="1277" y="772.1" font-family="'Liberation Sans', Arial, sans-serif" font-style="italic" font-size="25.5" fill="#222">xyy</text>
<text x="1229.5" y="847.5" font-family="'Liberation Serif', 'Times New Roman', serif" font-size="26.5" fill="#000">57 µW W<tspan dy="-11" font-size="19">−2</tspan></text>
<text x="1530.5" y="787" text-anchor="middle" font-family="'Liberation Serif', 'Times New Roman', serif" font-size="26.5" fill="#000">23</text>
<text x="1530" y="889" text-anchor="middle" font-family="'Liberation Serif', 'Times New Roman', serif" font-size="26.5" fill="#000">11</text>
<text x="1270.5" y="959.8" text-anchor="middle" font-family="'Liberation Serif', 'Times New Roman', serif" font-size="26.5" fill="#000">24</text>
<text x="1525" y="978.5" text-anchor="middle" font-family="'Liberation Serif', 'Times New Roman', serif" font-size="26.5" fill="#22cc22">5</text>
<text x="1525.5" y="1032.2" text-anchor="middle" font-family="'Liberation Serif', 'Times New Roman', serif" font-size="26.5" fill="#ee1111">2</text>
</svg>
</body></html>
